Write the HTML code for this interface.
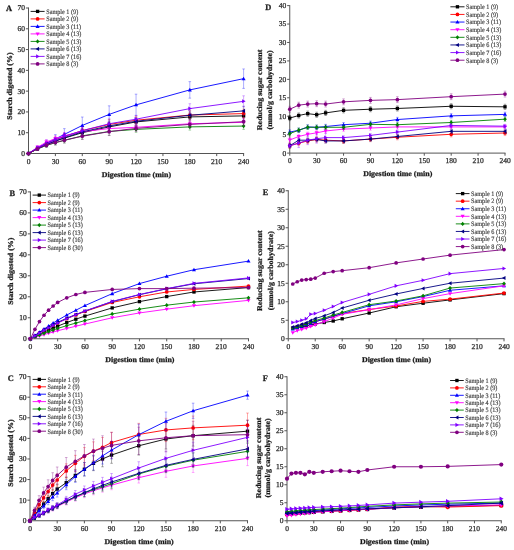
<!DOCTYPE html>
<html><head><meta charset="utf-8"><style>
html,body{margin:0;padding:0;background:#fff;}
svg{display:block;will-change:transform;filter:blur(0.35px);}
text{font-family:"Liberation Serif",serif;fill:#333;stroke:#333;stroke-width:0.28px;text-rendering:geometricPrecision;}
.tk{font-size:7.5px;}
.lg{font-size:6.7px;stroke-width:0.14px;fill:#3a3a3a;stroke:#3a3a3a;}
.xl{font-size:7.4px;font-weight:bold;fill:#111;}
.yl{font-size:7.4px;font-weight:bold;fill:#111;}
.lt{font-size:8.4px;font-weight:bold;fill:#111;}
</style></head><body>
<svg width="514" height="550" viewBox="0 0 514 550">
<rect width="514" height="550" fill="#fff"/>
<path d="M28.50 7.50V153.50H244.10" stroke="#555" stroke-width="1" fill="none"/>
<text x="24.90" y="155.90" text-anchor="end" class="tk" textLength="3.75" lengthAdjust="spacingAndGlyphs">0</text>
<text x="24.90" y="135.11" text-anchor="end" class="tk" textLength="7.50" lengthAdjust="spacingAndGlyphs">10</text>
<text x="24.90" y="114.33" text-anchor="end" class="tk" textLength="7.50" lengthAdjust="spacingAndGlyphs">20</text>
<text x="24.90" y="93.54" text-anchor="end" class="tk" textLength="7.50" lengthAdjust="spacingAndGlyphs">30</text>
<text x="24.90" y="72.76" text-anchor="end" class="tk" textLength="7.50" lengthAdjust="spacingAndGlyphs">40</text>
<text x="24.90" y="51.97" text-anchor="end" class="tk" textLength="7.50" lengthAdjust="spacingAndGlyphs">50</text>
<text x="24.90" y="31.19" text-anchor="end" class="tk" textLength="7.50" lengthAdjust="spacingAndGlyphs">60</text>
<text x="24.90" y="10.40" text-anchor="end" class="tk" textLength="7.50" lengthAdjust="spacingAndGlyphs">70</text>
<text x="28.50" y="163.50" text-anchor="middle" class="tk" textLength="3.75" lengthAdjust="spacingAndGlyphs">0</text>
<text x="55.39" y="163.50" text-anchor="middle" class="tk" textLength="7.50" lengthAdjust="spacingAndGlyphs">30</text>
<text x="82.28" y="163.50" text-anchor="middle" class="tk" textLength="7.50" lengthAdjust="spacingAndGlyphs">60</text>
<text x="109.16" y="163.50" text-anchor="middle" class="tk" textLength="7.50" lengthAdjust="spacingAndGlyphs">90</text>
<text x="136.05" y="163.50" text-anchor="middle" class="tk" textLength="11.25" lengthAdjust="spacingAndGlyphs">120</text>
<text x="162.94" y="163.50" text-anchor="middle" class="tk" textLength="11.25" lengthAdjust="spacingAndGlyphs">150</text>
<text x="189.82" y="163.50" text-anchor="middle" class="tk" textLength="11.25" lengthAdjust="spacingAndGlyphs">180</text>
<text x="216.71" y="163.50" text-anchor="middle" class="tk" textLength="11.25" lengthAdjust="spacingAndGlyphs">210</text>
<text x="243.60" y="163.50" text-anchor="middle" class="tk" textLength="11.25" lengthAdjust="spacingAndGlyphs">240</text>
<path d="M25.90 153.50H28.50 M25.90 132.71H28.50 M25.90 111.93H28.50 M25.90 91.14H28.50 M25.90 70.36H28.50 M25.90 49.57H28.50 M25.90 28.79H28.50 M25.90 8.00H28.50 M28.50 153.50V156.10 M55.39 153.50V156.10 M82.28 153.50V156.10 M109.16 153.50V156.10 M136.05 153.50V156.10 M162.94 153.50V156.10 M189.82 153.50V156.10 M216.71 153.50V156.10 M243.60 153.50V156.10" stroke="#555" stroke-width="1.0" fill="none"/>
<text x="136.45" y="176.50" text-anchor="middle" class="xl" textLength="69.2" lengthAdjust="spacingAndGlyphs">Digestion time (min)</text>
<text transform="translate(11.70,86.10) rotate(-90)" x="0" y="0" text-anchor="middle" class="yl" textLength="67.3" lengthAdjust="spacingAndGlyphs">Starch digested (%)</text>
<text x="6.00" y="11.40" class="lt">A</text>
<polyline points="28.50,153.50 37.46,148.72 46.42,144.56 55.39,141.03 64.35,138.12 82.28,132.71 109.16,126.89 136.05,121.91 189.82,116.92 243.60,115.88" fill="none" stroke="#000000" stroke-width="0.9" stroke-linejoin="round"/>
<path d="M28.50 152.67V154.33M27.20 152.67H29.80M27.20 154.33H29.80 M37.46 147.22V150.22M36.16 147.22H38.76M36.16 150.22H38.76 M46.42 142.48V146.64M45.12 142.48H47.72M45.12 146.64H47.72 M55.39 138.45V143.61M54.09 138.45H56.69M54.09 143.61H56.69 M64.35 135.13V141.10M63.05 135.13H65.65M63.05 141.10H65.65 M82.28 128.97V136.46M80.98 128.97H83.58M80.98 136.46H83.58 M109.16 122.34V131.45M107.86 122.34H110.46M107.86 131.45H110.46 M136.05 118.23V125.58M134.75 118.23H137.35M134.75 125.58H137.35 M189.82 112.79V121.04M188.52 112.79H191.12M188.52 121.04H191.12 M243.60 111.66V120.10M242.30 111.66H244.90M242.30 120.10H244.90" stroke="#000000" stroke-width="0.55" fill="none" opacity="0.6"/>
<rect x="26.84" y="151.84" width="3.33" height="3.33" fill="#000000"/>
<rect x="35.80" y="147.05" width="3.33" height="3.33" fill="#000000"/>
<rect x="44.76" y="142.90" width="3.33" height="3.33" fill="#000000"/>
<rect x="53.72" y="139.36" width="3.33" height="3.33" fill="#000000"/>
<rect x="62.68" y="136.45" width="3.33" height="3.33" fill="#000000"/>
<rect x="80.61" y="131.05" width="3.33" height="3.33" fill="#000000"/>
<rect x="107.50" y="125.23" width="3.33" height="3.33" fill="#000000"/>
<rect x="134.39" y="120.24" width="3.33" height="3.33" fill="#000000"/>
<rect x="188.16" y="115.25" width="3.33" height="3.33" fill="#000000"/>
<rect x="241.94" y="114.21" width="3.33" height="3.33" fill="#000000"/>
<polyline points="28.50,153.50 37.46,148.10 46.42,143.52 55.39,139.78 64.35,136.46 82.28,130.64 109.16,124.40 136.05,120.24 189.82,115.05 243.60,113.59" fill="none" stroke="#FF0000" stroke-width="0.9" stroke-linejoin="round"/>
<path d="M28.50 152.67V154.33M27.20 152.67H29.80M27.20 154.33H29.80 M37.46 146.51V149.68M36.16 146.51H38.76M36.16 149.68H38.76 M46.42 141.29V145.75M45.12 141.29H47.72M45.12 145.75H47.72 M55.39 137.03V142.53M54.09 137.03H56.69M54.09 142.53H56.69 M64.35 133.24V139.67M63.05 133.24H65.65M63.05 139.67H65.65 M82.28 126.60V134.67M80.98 126.60H83.58M80.98 134.67H83.58 M109.16 119.49V129.31M107.86 119.49H110.46M107.86 129.31H110.46 M136.05 116.42V124.07M134.75 116.42H137.35M134.75 124.07H137.35 M189.82 110.75V119.34M188.52 110.75H191.12M188.52 119.34H191.12 M243.60 109.17V118.01M242.30 109.17H244.90M242.30 118.01H244.90" stroke="#FF0000" stroke-width="0.55" fill="none" opacity="0.6"/>
<circle cx="28.50" cy="153.50" r="1.85" fill="#FF0000"/>
<circle cx="37.46" cy="148.10" r="1.85" fill="#FF0000"/>
<circle cx="46.42" cy="143.52" r="1.85" fill="#FF0000"/>
<circle cx="55.39" cy="139.78" r="1.85" fill="#FF0000"/>
<circle cx="64.35" cy="136.46" r="1.85" fill="#FF0000"/>
<circle cx="82.28" cy="130.64" r="1.85" fill="#FF0000"/>
<circle cx="109.16" cy="124.40" r="1.85" fill="#FF0000"/>
<circle cx="136.05" cy="120.24" r="1.85" fill="#FF0000"/>
<circle cx="189.82" cy="115.05" r="1.85" fill="#FF0000"/>
<circle cx="243.60" cy="113.59" r="1.85" fill="#FF0000"/>
<polyline points="28.50,153.50 37.46,147.68 46.42,143.11 55.39,138.95 64.35,134.38 82.28,125.44 109.16,114.42 136.05,104.86 189.82,89.90 243.60,78.67" fill="none" stroke="#0000FF" stroke-width="0.9" stroke-linejoin="round"/>
<path d="M37.46 145.93V149.43M36.16 145.93H38.76M36.16 149.43H38.76 M46.42 139.99V146.22M45.12 139.99H47.72M45.12 146.22H47.72 M55.39 134.59V143.31M54.09 134.59H56.69M54.09 143.31H56.69 M64.35 128.64V140.11M63.05 128.64H65.65M63.05 140.11H65.65 M82.28 117.02V133.86M80.98 117.02H83.58M80.98 133.86H83.58 M109.16 105.83V123.02M107.86 105.83H110.46M107.86 123.02H110.46 M136.05 94.16V115.56M134.75 94.16H137.35M134.75 115.56H137.35 M189.82 81.63V98.16M188.52 81.63H191.12M188.52 98.16H191.12 M243.60 68.94V88.40M242.30 68.94H244.90M242.30 88.40H244.90" stroke="#0000FF" stroke-width="0.55" fill="none" opacity="0.6"/>
<path d="M28.50 151.47L30.54 154.98L26.46 154.98Z" fill="#0000FF"/>
<path d="M37.46 145.65L39.50 149.16L35.43 149.16Z" fill="#0000FF"/>
<path d="M46.42 141.07L48.46 144.59L44.39 144.59Z" fill="#0000FF"/>
<path d="M55.39 136.91L57.42 140.43L53.35 140.43Z" fill="#0000FF"/>
<path d="M64.35 132.34L66.38 135.86L62.31 135.86Z" fill="#0000FF"/>
<path d="M82.28 123.40L84.31 126.92L80.24 126.92Z" fill="#0000FF"/>
<path d="M109.16 112.39L111.20 115.90L107.13 115.90Z" fill="#0000FF"/>
<path d="M136.05 102.83L138.09 106.34L134.02 106.34Z" fill="#0000FF"/>
<path d="M189.82 87.86L191.86 91.38L187.79 91.38Z" fill="#0000FF"/>
<path d="M243.60 76.64L245.63 80.15L241.56 80.15Z" fill="#0000FF"/>
<polyline points="28.50,153.50 37.46,147.26 46.42,142.07 55.39,138.53 64.35,135.83 82.28,131.68 109.16,128.56 136.05,127.31 189.82,123.78 243.60,122.32" fill="none" stroke="#FF00FF" stroke-width="0.9" stroke-linejoin="round"/>
<path d="M28.50 152.67V154.33M27.20 152.67H29.80M27.20 154.33H29.80 M37.46 145.56V148.97M36.16 145.56H38.76M36.16 148.97H38.76 M46.42 139.64V144.50M45.12 139.64H47.72M45.12 144.50H47.72 M55.39 135.61V141.46M54.09 135.61H56.69M54.09 141.46H56.69 M64.35 132.53V139.14M63.05 132.53H65.65M63.05 139.14H65.65 M82.28 127.79V135.56M80.98 127.79H83.58M80.98 135.56H83.58 M109.16 124.23V132.88M107.86 124.23H110.46M107.86 132.88H110.46 M136.05 124.12V130.50M134.75 124.12H137.35M134.75 130.50H137.35 M189.82 120.27V127.28M188.52 120.27H191.12M188.52 127.28H191.12 M243.60 118.68V125.96M242.30 118.68H244.90M242.30 125.96H244.90" stroke="#FF00FF" stroke-width="0.55" fill="none" opacity="0.6"/>
<path d="M28.50 155.53L30.54 152.02L26.46 152.02Z" fill="#FF00FF"/>
<path d="M37.46 149.30L39.50 145.78L35.43 145.78Z" fill="#FF00FF"/>
<path d="M46.42 144.10L48.46 140.59L44.39 140.59Z" fill="#FF00FF"/>
<path d="M55.39 140.57L57.42 137.05L53.35 137.05Z" fill="#FF00FF"/>
<path d="M64.35 137.87L66.38 134.35L62.31 134.35Z" fill="#FF00FF"/>
<path d="M82.28 133.71L84.31 130.20L80.24 130.20Z" fill="#FF00FF"/>
<path d="M109.16 130.59L111.20 127.08L107.13 127.08Z" fill="#FF00FF"/>
<path d="M136.05 129.34L138.09 125.83L134.02 125.83Z" fill="#FF00FF"/>
<path d="M189.82 125.81L191.86 122.30L187.79 122.30Z" fill="#FF00FF"/>
<path d="M243.60 124.36L245.63 120.84L241.56 120.84Z" fill="#FF00FF"/>
<polyline points="28.50,153.50 37.46,148.93 46.42,145.39 55.39,142.69 64.35,140.41 82.28,135.83 109.16,131.47 136.05,129.39 189.82,126.89 243.60,126.06" fill="none" stroke="#008000" stroke-width="0.9" stroke-linejoin="round"/>
<path d="M28.50 152.67V154.33M27.20 152.67H29.80M27.20 154.33H29.80 M37.46 147.46V150.40M36.16 147.46H38.76M36.16 150.40H38.76 M46.42 143.43V147.36M45.12 143.43H47.72M45.12 147.36H47.72 M55.39 140.35V145.04M54.09 140.35H56.69M54.09 145.04H56.69 M64.35 137.74V143.07M63.05 137.74H65.65M63.05 143.07H65.65 M82.28 132.53V139.14M80.98 132.53H83.58M80.98 139.14H83.58 M109.16 127.55V135.38M107.86 127.55H110.46M107.86 135.38H110.46 M136.05 126.39V132.39M134.75 126.39H137.35M134.75 132.39H137.35 M189.82 123.67V130.12M188.52 123.67H191.12M188.52 130.12H191.12 M243.60 122.76V129.36M242.30 122.76H244.90M242.30 129.36H244.90" stroke="#008000" stroke-width="0.55" fill="none" opacity="0.6"/>
<path d="M28.50 151.37L30.35 153.50L28.50 155.63L26.65 153.50Z" fill="#008000"/>
<path d="M37.46 146.80L39.31 148.93L37.46 151.05L35.61 148.93Z" fill="#008000"/>
<path d="M46.42 143.27L48.27 145.39L46.42 147.52L44.57 145.39Z" fill="#008000"/>
<path d="M55.39 140.56L57.24 142.69L55.39 144.82L53.54 142.69Z" fill="#008000"/>
<path d="M64.35 138.28L66.20 140.41L64.35 142.53L62.50 140.41Z" fill="#008000"/>
<path d="M82.28 133.70L84.12 135.83L82.28 137.96L80.43 135.83Z" fill="#008000"/>
<path d="M109.16 129.34L111.01 131.47L109.16 133.59L107.31 131.47Z" fill="#008000"/>
<path d="M136.05 127.26L137.90 129.39L136.05 131.52L134.20 129.39Z" fill="#008000"/>
<path d="M189.82 124.77L191.67 126.89L189.82 129.02L187.97 126.89Z" fill="#008000"/>
<path d="M243.60 123.94L245.45 126.06L243.60 128.19L241.75 126.06Z" fill="#008000"/>
<polyline points="28.50,153.50 37.46,148.51 46.42,144.56 55.39,141.03 64.35,137.70 82.28,131.88 109.16,125.85 136.05,121.28 189.82,115.25 243.60,110.89" fill="none" stroke="#000080" stroke-width="0.9" stroke-linejoin="round"/>
<path d="M28.50 152.67V154.33M27.20 152.67H29.80M27.20 154.33H29.80 M37.46 146.98V150.04M36.16 146.98H38.76M36.16 150.04H38.76 M46.42 142.48V146.64M45.12 142.48H47.72M45.12 146.64H47.72 M55.39 138.45V143.61M54.09 138.45H56.69M54.09 143.61H56.69 M64.35 134.66V140.75M63.05 134.66H65.65M63.05 140.75H65.65 M82.28 128.03V135.74M80.98 128.03H83.58M80.98 135.74H83.58 M109.16 121.15V130.56M107.86 121.15H110.46M107.86 130.56H110.46 M136.05 117.55V125.01M134.75 117.55H137.35M134.75 125.01H137.35 M189.82 110.98V119.53M188.52 110.98H191.12M188.52 119.53H191.12 M243.60 106.22V115.56M242.30 106.22H244.90M242.30 115.56H244.90" stroke="#000080" stroke-width="0.55" fill="none" opacity="0.6"/>
<path d="M26.46 153.50L29.98 151.47L29.98 155.53Z" fill="#000080"/>
<path d="M35.43 148.51L38.94 146.48L38.94 150.55Z" fill="#000080"/>
<path d="M44.39 144.56L47.90 142.53L47.90 146.60Z" fill="#000080"/>
<path d="M53.35 141.03L56.87 138.99L56.87 143.06Z" fill="#000080"/>
<path d="M62.31 137.70L65.83 135.67L65.83 139.74Z" fill="#000080"/>
<path d="M80.24 131.88L83.76 129.85L83.76 133.92Z" fill="#000080"/>
<path d="M107.13 125.85L110.64 123.82L110.64 127.89Z" fill="#000080"/>
<path d="M134.02 121.28L137.53 119.25L137.53 123.32Z" fill="#000080"/>
<path d="M187.79 115.25L191.30 113.22L191.30 117.29Z" fill="#000080"/>
<path d="M241.56 110.89L245.08 108.85L245.08 112.92Z" fill="#000080"/>
<polyline points="28.50,153.50 37.46,148.10 46.42,143.94 55.39,139.99 64.35,136.25 82.28,130.64 109.16,123.78 136.05,119.20 189.82,108.60 243.60,101.33" fill="none" stroke="#8000FF" stroke-width="0.9" stroke-linejoin="round"/>
<path d="M28.50 152.67V154.33M27.20 152.67H29.80M27.20 154.33H29.80 M37.46 146.51V149.68M36.16 146.51H38.76M36.16 149.68H38.76 M46.42 141.77V146.11M45.12 141.77H47.72M45.12 146.11H47.72 M55.39 137.27V142.71M54.09 137.27H56.69M54.09 142.71H56.69 M64.35 133.00V139.49M63.05 133.00H65.65M63.05 139.49H65.65 M82.28 126.60V134.67M80.98 126.60H83.58M80.98 134.67H83.58 M109.16 118.78V128.77M107.86 118.78H110.46M107.86 128.77H110.46 M136.05 115.29V123.12M134.75 115.29H137.35M134.75 123.12H137.35 M189.82 103.73V113.48M188.52 103.73H191.12M188.52 113.48H191.12 M243.60 95.80V106.85M242.30 95.80H244.90M242.30 106.85H244.90" stroke="#8000FF" stroke-width="0.55" fill="none" opacity="0.6"/>
<path d="M30.54 153.50L27.02 151.47L27.02 155.53Z" fill="#8000FF"/>
<path d="M39.50 148.10L35.98 146.06L35.98 150.13Z" fill="#8000FF"/>
<path d="M48.46 143.94L44.95 141.90L44.95 145.97Z" fill="#8000FF"/>
<path d="M57.42 139.99L53.91 137.95L53.91 142.02Z" fill="#8000FF"/>
<path d="M66.38 136.25L62.87 134.21L62.87 138.28Z" fill="#8000FF"/>
<path d="M84.31 130.64L80.80 128.60L80.80 132.67Z" fill="#8000FF"/>
<path d="M111.20 123.78L107.68 121.74L107.68 125.81Z" fill="#8000FF"/>
<path d="M138.09 119.20L134.57 117.17L134.57 121.24Z" fill="#8000FF"/>
<path d="M191.86 108.60L188.34 106.57L188.34 110.64Z" fill="#8000FF"/>
<path d="M245.63 101.33L242.12 99.29L242.12 103.36Z" fill="#8000FF"/>
<polyline points="28.50,153.50 37.46,148.93 46.42,145.19 55.39,142.48 64.35,140.20 82.28,136.25 109.16,131.68 136.05,128.35 189.82,124.40 243.60,121.70" fill="none" stroke="#800080" stroke-width="0.9" stroke-linejoin="round"/>
<path d="M28.50 152.67V154.33M27.20 152.67H29.80M27.20 154.33H29.80 M37.46 147.46V150.40M36.16 147.46H38.76M36.16 150.40H38.76 M46.42 143.19V147.18M45.12 143.19H47.72M45.12 147.18H47.72 M55.39 140.11V144.86M54.09 140.11H56.69M54.09 144.86H56.69 M64.35 137.50V142.89M63.05 137.50H65.65M63.05 142.89H65.65 M82.28 133.00V139.49M80.98 133.00H83.58M80.98 139.49H83.58 M109.16 127.79V135.56M107.86 127.79H110.46M107.86 135.56H110.46 M136.05 125.25V131.44M134.75 125.25H137.35M134.75 131.44H137.35 M189.82 120.95V127.85M188.52 120.95H191.12M188.52 127.85H191.12 M243.60 118.00V125.39M242.30 118.00H244.90M242.30 125.39H244.90" stroke="#800080" stroke-width="0.55" fill="none" opacity="0.6"/>
<circle cx="28.50" cy="153.50" r="1.85" fill="#800080"/>
<circle cx="37.46" cy="148.93" r="1.85" fill="#800080"/>
<circle cx="46.42" cy="145.19" r="1.85" fill="#800080"/>
<circle cx="55.39" cy="142.48" r="1.85" fill="#800080"/>
<circle cx="64.35" cy="140.20" r="1.85" fill="#800080"/>
<circle cx="82.28" cy="136.25" r="1.85" fill="#800080"/>
<circle cx="109.16" cy="131.68" r="1.85" fill="#800080"/>
<circle cx="136.05" cy="128.35" r="1.85" fill="#800080"/>
<circle cx="189.82" cy="124.40" r="1.85" fill="#800080"/>
<circle cx="243.60" cy="121.70" r="1.85" fill="#800080"/>
<path d="M30.60 11.40H44.60" stroke="#000000" stroke-width="0.9"/>
<rect x="35.94" y="9.73" width="3.33" height="3.33" fill="#000000"/>
<text x="46.20" y="13.70" class="lg" textLength="32.03" lengthAdjust="spacingAndGlyphs">Sample 1 (9)</text>
<path d="M30.60 18.90H44.60" stroke="#FF0000" stroke-width="0.9"/>
<circle cx="37.60" cy="18.90" r="1.85" fill="#FF0000"/>
<text x="46.20" y="21.20" class="lg" textLength="32.03" lengthAdjust="spacingAndGlyphs">Sample 2 (9)</text>
<path d="M30.60 26.40H44.60" stroke="#0000FF" stroke-width="0.9"/>
<path d="M37.60 24.36L39.64 27.88L35.56 27.88Z" fill="#0000FF"/>
<text x="46.20" y="28.70" class="lg" textLength="34.90" lengthAdjust="spacingAndGlyphs">Sample 3 (11)</text>
<path d="M30.60 33.90H44.60" stroke="#FF00FF" stroke-width="0.9"/>
<path d="M37.60 35.94L39.64 32.42L35.56 32.42Z" fill="#FF00FF"/>
<text x="46.20" y="36.20" class="lg" textLength="35.13" lengthAdjust="spacingAndGlyphs">Sample 4 (13)</text>
<path d="M30.60 41.40H44.60" stroke="#008000" stroke-width="0.9"/>
<path d="M37.60 39.27L39.45 41.40L37.60 43.53L35.75 41.40Z" fill="#008000"/>
<text x="46.20" y="43.70" class="lg" textLength="35.13" lengthAdjust="spacingAndGlyphs">Sample 5 (13)</text>
<path d="M30.60 48.90H44.60" stroke="#000080" stroke-width="0.9"/>
<path d="M35.56 48.90L39.08 46.86L39.08 50.94Z" fill="#000080"/>
<text x="46.20" y="51.20" class="lg" textLength="35.13" lengthAdjust="spacingAndGlyphs">Sample 6 (13)</text>
<path d="M30.60 56.40H44.60" stroke="#8000FF" stroke-width="0.9"/>
<path d="M39.64 56.40L36.12 54.36L36.12 58.44Z" fill="#8000FF"/>
<text x="46.20" y="58.70" class="lg" textLength="35.13" lengthAdjust="spacingAndGlyphs">Sample 7 (16)</text>
<path d="M30.60 63.90H44.60" stroke="#800080" stroke-width="0.9"/>
<circle cx="37.60" cy="63.90" r="1.85" fill="#800080"/>
<text x="46.20" y="66.20" class="lg" textLength="32.03" lengthAdjust="spacingAndGlyphs">Sample 8 (3)</text>
<path d="M30.40 191.40V338.75H249.00" stroke="#555" stroke-width="1" fill="none"/>
<text x="26.80" y="341.15" text-anchor="end" class="tk" textLength="3.75" lengthAdjust="spacingAndGlyphs">0</text>
<text x="26.80" y="320.17" text-anchor="end" class="tk" textLength="7.50" lengthAdjust="spacingAndGlyphs">10</text>
<text x="26.80" y="299.19" text-anchor="end" class="tk" textLength="7.50" lengthAdjust="spacingAndGlyphs">20</text>
<text x="26.80" y="278.21" text-anchor="end" class="tk" textLength="7.50" lengthAdjust="spacingAndGlyphs">30</text>
<text x="26.80" y="257.24" text-anchor="end" class="tk" textLength="7.50" lengthAdjust="spacingAndGlyphs">40</text>
<text x="26.80" y="236.26" text-anchor="end" class="tk" textLength="7.50" lengthAdjust="spacingAndGlyphs">50</text>
<text x="26.80" y="215.28" text-anchor="end" class="tk" textLength="7.50" lengthAdjust="spacingAndGlyphs">60</text>
<text x="26.80" y="194.30" text-anchor="end" class="tk" textLength="7.50" lengthAdjust="spacingAndGlyphs">70</text>
<text x="30.40" y="348.75" text-anchor="middle" class="tk" textLength="3.75" lengthAdjust="spacingAndGlyphs">0</text>
<text x="57.66" y="348.75" text-anchor="middle" class="tk" textLength="7.50" lengthAdjust="spacingAndGlyphs">30</text>
<text x="84.92" y="348.75" text-anchor="middle" class="tk" textLength="7.50" lengthAdjust="spacingAndGlyphs">60</text>
<text x="112.19" y="348.75" text-anchor="middle" class="tk" textLength="7.50" lengthAdjust="spacingAndGlyphs">90</text>
<text x="139.45" y="348.75" text-anchor="middle" class="tk" textLength="11.25" lengthAdjust="spacingAndGlyphs">120</text>
<text x="166.71" y="348.75" text-anchor="middle" class="tk" textLength="11.25" lengthAdjust="spacingAndGlyphs">150</text>
<text x="193.97" y="348.75" text-anchor="middle" class="tk" textLength="11.25" lengthAdjust="spacingAndGlyphs">180</text>
<text x="221.24" y="348.75" text-anchor="middle" class="tk" textLength="11.25" lengthAdjust="spacingAndGlyphs">210</text>
<text x="248.50" y="348.75" text-anchor="middle" class="tk" textLength="11.25" lengthAdjust="spacingAndGlyphs">240</text>
<path d="M27.80 338.75H30.40 M27.80 317.77H30.40 M27.80 296.79H30.40 M27.80 275.81H30.40 M27.80 254.84H30.40 M27.80 233.86H30.40 M27.80 212.88H30.40 M27.80 191.90H30.40 M30.40 338.75V341.35 M57.66 338.75V341.35 M84.92 338.75V341.35 M112.19 338.75V341.35 M139.45 338.75V341.35 M166.71 338.75V341.35 M193.97 338.75V341.35 M221.24 338.75V341.35 M248.50 338.75V341.35" stroke="#555" stroke-width="1.0" fill="none"/>
<text x="139.85" y="361.75" text-anchor="middle" class="xl" textLength="69.2" lengthAdjust="spacingAndGlyphs">Digestion time (min)</text>
<text transform="translate(13.10,271.20) rotate(-90)" x="0" y="0" text-anchor="middle" class="yl" textLength="67.3" lengthAdjust="spacingAndGlyphs">Starch digested (%)</text>
<text x="9.60" y="196.20" class="lt">B</text>
<polyline points="30.40,338.75 34.94,336.47 39.49,334.26 44.03,332.12 48.57,330.06 53.12,328.07 57.66,326.16 66.75,322.56 75.84,319.21 84.92,316.09 112.19,307.91 139.45,301.62 166.71,296.58 193.97,291.97 248.50,287.56" fill="none" stroke="#000000" stroke-width="0.9" stroke-linejoin="round"/>
<rect x="28.73" y="337.08" width="3.33" height="3.33" fill="#000000"/>
<rect x="33.28" y="334.81" width="3.33" height="3.33" fill="#000000"/>
<rect x="37.82" y="332.60" width="3.33" height="3.33" fill="#000000"/>
<rect x="42.37" y="330.46" width="3.33" height="3.33" fill="#000000"/>
<rect x="46.91" y="328.39" width="3.33" height="3.33" fill="#000000"/>
<rect x="51.45" y="326.40" width="3.33" height="3.33" fill="#000000"/>
<rect x="56.00" y="324.50" width="3.33" height="3.33" fill="#000000"/>
<rect x="65.08" y="320.90" width="3.33" height="3.33" fill="#000000"/>
<rect x="74.17" y="317.55" width="3.33" height="3.33" fill="#000000"/>
<rect x="83.26" y="314.43" width="3.33" height="3.33" fill="#000000"/>
<rect x="110.52" y="306.25" width="3.33" height="3.33" fill="#000000"/>
<rect x="137.78" y="299.95" width="3.33" height="3.33" fill="#000000"/>
<rect x="165.05" y="294.92" width="3.33" height="3.33" fill="#000000"/>
<rect x="192.31" y="290.30" width="3.33" height="3.33" fill="#000000"/>
<rect x="246.84" y="285.90" width="3.33" height="3.33" fill="#000000"/>
<polyline points="30.40,338.75 34.94,335.76 39.49,332.89 44.03,330.15 48.57,327.55 53.12,325.10 57.66,322.81 66.75,318.65 75.84,314.92 84.92,311.48 112.19,302.46 139.45,296.79 166.71,291.97 193.97,289.45 248.50,286.09" fill="none" stroke="#FF0000" stroke-width="0.9" stroke-linejoin="round"/>
<circle cx="30.40" cy="338.75" r="1.85" fill="#FF0000"/>
<circle cx="34.94" cy="335.76" r="1.85" fill="#FF0000"/>
<circle cx="39.49" cy="332.89" r="1.85" fill="#FF0000"/>
<circle cx="44.03" cy="330.15" r="1.85" fill="#FF0000"/>
<circle cx="48.57" cy="327.55" r="1.85" fill="#FF0000"/>
<circle cx="53.12" cy="325.10" r="1.85" fill="#FF0000"/>
<circle cx="57.66" cy="322.81" r="1.85" fill="#FF0000"/>
<circle cx="66.75" cy="318.65" r="1.85" fill="#FF0000"/>
<circle cx="75.84" cy="314.92" r="1.85" fill="#FF0000"/>
<circle cx="84.92" cy="311.48" r="1.85" fill="#FF0000"/>
<circle cx="112.19" cy="302.46" r="1.85" fill="#FF0000"/>
<circle cx="139.45" cy="296.79" r="1.85" fill="#FF0000"/>
<circle cx="166.71" cy="291.97" r="1.85" fill="#FF0000"/>
<circle cx="193.97" cy="289.45" r="1.85" fill="#FF0000"/>
<circle cx="248.50" cy="286.09" r="1.85" fill="#FF0000"/>
<polyline points="30.40,338.75 34.94,335.40 39.49,332.17 44.03,329.05 48.57,326.04 53.12,323.12 57.66,320.29 66.75,315.04 75.84,310.22 84.92,305.60 112.19,293.65 139.45,283.58 166.71,276.23 193.97,269.73 248.50,261.13" fill="none" stroke="#0000FF" stroke-width="0.9" stroke-linejoin="round"/>
<path d="M30.40 336.71L32.44 340.23L28.36 340.23Z" fill="#0000FF"/>
<path d="M34.94 333.36L36.98 336.88L32.91 336.88Z" fill="#0000FF"/>
<path d="M39.49 330.13L41.52 333.65L37.45 333.65Z" fill="#0000FF"/>
<path d="M44.03 327.02L46.07 330.53L42.00 330.53Z" fill="#0000FF"/>
<path d="M48.57 324.00L50.61 327.52L46.54 327.52Z" fill="#0000FF"/>
<path d="M53.12 321.09L55.15 324.60L51.08 324.60Z" fill="#0000FF"/>
<path d="M57.66 318.25L59.70 321.77L55.63 321.77Z" fill="#0000FF"/>
<path d="M66.75 313.01L68.78 316.52L64.72 316.52Z" fill="#0000FF"/>
<path d="M75.84 308.18L77.87 311.70L73.80 311.70Z" fill="#0000FF"/>
<path d="M84.92 303.57L86.96 307.08L82.89 307.08Z" fill="#0000FF"/>
<path d="M112.19 291.61L114.22 295.13L110.15 295.13Z" fill="#0000FF"/>
<path d="M139.45 281.54L141.48 285.06L137.41 285.06Z" fill="#0000FF"/>
<path d="M166.71 274.20L168.75 277.71L164.68 277.71Z" fill="#0000FF"/>
<path d="M193.97 267.70L196.01 271.21L191.94 271.21Z" fill="#0000FF"/>
<path d="M248.50 259.09L250.53 262.61L246.47 262.61Z" fill="#0000FF"/>
<polyline points="30.40,338.75 34.94,337.33 39.49,335.95 44.03,334.60 48.57,333.29 53.12,332.01 57.66,330.78 66.75,328.44 75.84,326.23 84.92,324.06 112.19,317.77 139.45,312.95 166.71,309.17 193.97,305.71 248.50,300.36" fill="none" stroke="#FF00FF" stroke-width="0.9" stroke-linejoin="round"/>
<path d="M30.40 340.79L32.44 337.27L28.36 337.27Z" fill="#FF00FF"/>
<path d="M34.94 339.37L36.98 335.85L32.91 335.85Z" fill="#FF00FF"/>
<path d="M39.49 337.98L41.52 334.47L37.45 334.47Z" fill="#FF00FF"/>
<path d="M44.03 336.63L46.07 333.12L42.00 333.12Z" fill="#FF00FF"/>
<path d="M48.57 335.32L50.61 331.81L46.54 331.81Z" fill="#FF00FF"/>
<path d="M53.12 334.05L55.15 330.53L51.08 330.53Z" fill="#FF00FF"/>
<path d="M57.66 332.81L59.70 329.30L55.63 329.30Z" fill="#FF00FF"/>
<path d="M66.75 330.47L68.78 326.96L64.72 326.96Z" fill="#FF00FF"/>
<path d="M75.84 328.26L77.87 324.75L73.80 324.75Z" fill="#FF00FF"/>
<path d="M84.92 326.10L86.96 322.58L82.89 322.58Z" fill="#FF00FF"/>
<path d="M112.19 319.81L114.22 316.29L110.15 316.29Z" fill="#FF00FF"/>
<path d="M139.45 314.98L141.48 311.47L137.41 311.47Z" fill="#FF00FF"/>
<path d="M166.71 311.21L168.75 307.69L164.68 307.69Z" fill="#FF00FF"/>
<path d="M193.97 307.74L196.01 304.23L191.94 304.23Z" fill="#FF00FF"/>
<path d="M248.50 302.39L250.53 298.88L246.47 298.88Z" fill="#FF00FF"/>
<polyline points="30.40,338.75 34.94,336.87 39.49,335.04 44.03,333.29 48.57,331.61 53.12,330.00 57.66,328.47 66.75,325.64 75.84,323.05 84.92,320.60 112.19,314.00 139.45,309.17 166.71,305.18 193.97,302.04 248.50,297.84" fill="none" stroke="#008000" stroke-width="0.9" stroke-linejoin="round"/>
<path d="M30.40 336.62L32.25 338.75L30.40 340.88L28.55 338.75Z" fill="#008000"/>
<path d="M34.94 334.74L36.79 336.87L34.94 338.99L33.09 336.87Z" fill="#008000"/>
<path d="M39.49 332.92L41.34 335.04L39.49 337.17L37.64 335.04Z" fill="#008000"/>
<path d="M44.03 331.16L45.88 333.29L44.03 335.42L42.18 333.29Z" fill="#008000"/>
<path d="M48.57 329.48L50.42 331.61L48.57 333.73L46.72 331.61Z" fill="#008000"/>
<path d="M53.12 327.87L54.97 330.00L53.12 332.13L51.27 330.00Z" fill="#008000"/>
<path d="M57.66 326.34L59.51 328.47L57.66 330.60L55.81 328.47Z" fill="#008000"/>
<path d="M66.75 323.52L68.60 325.64L66.75 327.77L64.90 325.64Z" fill="#008000"/>
<path d="M75.84 320.92L77.69 323.05L75.84 325.17L73.99 323.05Z" fill="#008000"/>
<path d="M84.92 318.48L86.77 320.60L84.92 322.73L83.08 320.60Z" fill="#008000"/>
<path d="M112.19 311.87L114.04 314.00L112.19 316.12L110.34 314.00Z" fill="#008000"/>
<path d="M139.45 307.04L141.30 309.17L139.45 311.30L137.60 309.17Z" fill="#008000"/>
<path d="M166.71 303.06L168.56 305.18L166.71 307.31L164.86 305.18Z" fill="#008000"/>
<path d="M193.97 299.91L195.82 302.04L193.97 304.17L192.12 302.04Z" fill="#008000"/>
<path d="M248.50 295.71L250.35 297.84L248.50 299.97L246.65 297.84Z" fill="#008000"/>
<polyline points="30.40,338.75 34.94,335.66 39.49,332.70 44.03,329.88 48.57,327.21 53.12,324.71 57.66,322.39 66.75,318.23 75.84,314.53 84.92,311.06 112.19,301.62 139.45,294.69 166.71,288.82 193.97,283.79 248.50,278.54" fill="none" stroke="#000080" stroke-width="0.9" stroke-linejoin="round"/>
<path d="M28.36 338.75L31.88 336.71L31.88 340.79Z" fill="#000080"/>
<path d="M32.91 335.66L36.42 333.63L36.42 337.70Z" fill="#000080"/>
<path d="M37.45 332.70L40.97 330.67L40.97 334.74Z" fill="#000080"/>
<path d="M42.00 329.88L45.51 327.85L45.51 331.92Z" fill="#000080"/>
<path d="M46.54 327.21L50.05 325.18L50.05 329.25Z" fill="#000080"/>
<path d="M51.08 324.71L54.60 322.68L54.60 326.75Z" fill="#000080"/>
<path d="M55.63 322.39L59.14 320.35L59.14 324.42Z" fill="#000080"/>
<path d="M64.72 318.23L68.23 316.19L68.23 320.26Z" fill="#000080"/>
<path d="M73.80 314.53L77.32 312.49L77.32 316.56Z" fill="#000080"/>
<path d="M82.89 311.06L86.41 309.02L86.41 313.09Z" fill="#000080"/>
<path d="M110.15 301.62L113.67 299.58L113.67 303.65Z" fill="#000080"/>
<path d="M137.41 294.69L140.93 292.66L140.93 296.73Z" fill="#000080"/>
<path d="M164.68 288.82L168.19 286.79L168.19 290.86Z" fill="#000080"/>
<path d="M191.94 283.79L195.45 281.75L195.45 285.82Z" fill="#000080"/>
<path d="M246.47 278.54L249.98 276.51L249.98 280.58Z" fill="#000080"/>
<polyline points="30.40,338.75 34.94,335.86 39.49,333.07 44.03,330.38 48.57,327.80 53.12,325.35 57.66,323.02 66.75,318.69 75.84,314.73 84.92,311.06 112.19,301.41 139.45,294.49 166.71,288.61 193.97,283.37 248.50,277.91" fill="none" stroke="#8000FF" stroke-width="0.9" stroke-linejoin="round"/>
<path d="M32.44 338.75L28.92 336.71L28.92 340.79Z" fill="#8000FF"/>
<path d="M36.98 335.86L33.46 333.82L33.46 337.89Z" fill="#8000FF"/>
<path d="M41.52 333.07L38.01 331.03L38.01 335.10Z" fill="#8000FF"/>
<path d="M46.07 330.38L42.55 328.34L42.55 332.41Z" fill="#8000FF"/>
<path d="M50.61 327.80L47.09 325.77L47.09 329.84Z" fill="#8000FF"/>
<path d="M55.15 325.35L51.64 323.31L51.64 327.38Z" fill="#8000FF"/>
<path d="M59.70 323.02L56.18 320.98L56.18 325.05Z" fill="#8000FF"/>
<path d="M68.78 318.69L65.27 316.66L65.27 320.73Z" fill="#8000FF"/>
<path d="M77.87 314.73L74.36 312.70L74.36 316.77Z" fill="#8000FF"/>
<path d="M86.96 311.06L83.44 309.02L83.44 313.09Z" fill="#8000FF"/>
<path d="M114.22 301.41L110.71 299.37L110.71 303.44Z" fill="#8000FF"/>
<path d="M141.48 294.49L137.97 292.45L137.97 296.52Z" fill="#8000FF"/>
<path d="M168.75 288.61L165.23 286.58L165.23 290.65Z" fill="#8000FF"/>
<path d="M196.01 283.37L192.50 281.33L192.50 285.40Z" fill="#8000FF"/>
<path d="M250.53 277.91L247.02 275.88L247.02 279.95Z" fill="#8000FF"/>
<polyline points="30.40,338.75 34.94,329.31 39.49,321.55 44.03,315.25 48.57,310.22 53.12,306.02 57.66,302.46 66.75,297.84 75.84,294.49 84.92,292.39 112.19,289.45 139.45,288.61 166.71,288.61 193.97,288.19 248.50,287.56" fill="none" stroke="#800080" stroke-width="0.9" stroke-linejoin="round"/>
<circle cx="30.40" cy="338.75" r="1.85" fill="#800080"/>
<circle cx="34.94" cy="329.31" r="1.85" fill="#800080"/>
<circle cx="39.49" cy="321.55" r="1.85" fill="#800080"/>
<circle cx="44.03" cy="315.25" r="1.85" fill="#800080"/>
<circle cx="48.57" cy="310.22" r="1.85" fill="#800080"/>
<circle cx="53.12" cy="306.02" r="1.85" fill="#800080"/>
<circle cx="57.66" cy="302.46" r="1.85" fill="#800080"/>
<circle cx="66.75" cy="297.84" r="1.85" fill="#800080"/>
<circle cx="75.84" cy="294.49" r="1.85" fill="#800080"/>
<circle cx="84.92" cy="292.39" r="1.85" fill="#800080"/>
<circle cx="112.19" cy="289.45" r="1.85" fill="#800080"/>
<circle cx="139.45" cy="288.61" r="1.85" fill="#800080"/>
<circle cx="166.71" cy="288.61" r="1.85" fill="#800080"/>
<circle cx="193.97" cy="288.19" r="1.85" fill="#800080"/>
<circle cx="248.50" cy="287.56" r="1.85" fill="#800080"/>
<path d="M32.60 195.10H46.00" stroke="#000000" stroke-width="0.9"/>
<rect x="37.63" y="193.44" width="3.33" height="3.33" fill="#000000"/>
<text x="47.60" y="197.40" class="lg" textLength="32.03" lengthAdjust="spacingAndGlyphs">Sample 1 (9)</text>
<path d="M32.60 202.60H46.00" stroke="#FF0000" stroke-width="0.9"/>
<circle cx="39.30" cy="202.60" r="1.85" fill="#FF0000"/>
<text x="47.60" y="204.90" class="lg" textLength="32.03" lengthAdjust="spacingAndGlyphs">Sample 2 (9)</text>
<path d="M32.60 210.10H46.00" stroke="#0000FF" stroke-width="0.9"/>
<path d="M39.30 208.06L41.33 211.58L37.27 211.58Z" fill="#0000FF"/>
<text x="47.60" y="212.40" class="lg" textLength="34.90" lengthAdjust="spacingAndGlyphs">Sample 3 (11)</text>
<path d="M32.60 217.60H46.00" stroke="#FF00FF" stroke-width="0.9"/>
<path d="M39.30 219.63L41.33 216.12L37.27 216.12Z" fill="#FF00FF"/>
<text x="47.60" y="219.90" class="lg" textLength="35.13" lengthAdjust="spacingAndGlyphs">Sample 4 (13)</text>
<path d="M32.60 225.10H46.00" stroke="#008000" stroke-width="0.9"/>
<path d="M39.30 222.97L41.15 225.10L39.30 227.23L37.45 225.10Z" fill="#008000"/>
<text x="47.60" y="227.40" class="lg" textLength="35.13" lengthAdjust="spacingAndGlyphs">Sample 5 (13)</text>
<path d="M32.60 232.60H46.00" stroke="#000080" stroke-width="0.9"/>
<path d="M37.27 232.60L40.78 230.56L40.78 234.63Z" fill="#000080"/>
<text x="47.60" y="234.90" class="lg" textLength="35.13" lengthAdjust="spacingAndGlyphs">Sample 6 (13)</text>
<path d="M32.60 240.10H46.00" stroke="#8000FF" stroke-width="0.9"/>
<path d="M41.33 240.10L37.82 238.06L37.82 242.13Z" fill="#8000FF"/>
<text x="47.60" y="242.40" class="lg" textLength="35.13" lengthAdjust="spacingAndGlyphs">Sample 7 (16)</text>
<path d="M32.60 247.60H46.00" stroke="#800080" stroke-width="0.9"/>
<circle cx="39.30" cy="247.60" r="1.85" fill="#800080"/>
<text x="47.60" y="249.90" class="lg" textLength="35.13" lengthAdjust="spacingAndGlyphs">Sample 8 (30)</text>
<path d="M30.00 376.10V520.75H248.00" stroke="#555" stroke-width="1" fill="none"/>
<text x="26.40" y="523.15" text-anchor="end" class="tk" textLength="3.75" lengthAdjust="spacingAndGlyphs">0</text>
<text x="26.40" y="502.56" text-anchor="end" class="tk" textLength="7.50" lengthAdjust="spacingAndGlyphs">10</text>
<text x="26.40" y="481.96" text-anchor="end" class="tk" textLength="7.50" lengthAdjust="spacingAndGlyphs">20</text>
<text x="26.40" y="461.37" text-anchor="end" class="tk" textLength="7.50" lengthAdjust="spacingAndGlyphs">30</text>
<text x="26.40" y="440.78" text-anchor="end" class="tk" textLength="7.50" lengthAdjust="spacingAndGlyphs">40</text>
<text x="26.40" y="420.19" text-anchor="end" class="tk" textLength="7.50" lengthAdjust="spacingAndGlyphs">50</text>
<text x="26.40" y="399.59" text-anchor="end" class="tk" textLength="7.50" lengthAdjust="spacingAndGlyphs">60</text>
<text x="26.40" y="379.00" text-anchor="end" class="tk" textLength="7.50" lengthAdjust="spacingAndGlyphs">70</text>
<text x="30.00" y="530.75" text-anchor="middle" class="tk" textLength="3.75" lengthAdjust="spacingAndGlyphs">0</text>
<text x="57.19" y="530.75" text-anchor="middle" class="tk" textLength="7.50" lengthAdjust="spacingAndGlyphs">30</text>
<text x="84.38" y="530.75" text-anchor="middle" class="tk" textLength="7.50" lengthAdjust="spacingAndGlyphs">60</text>
<text x="111.56" y="530.75" text-anchor="middle" class="tk" textLength="7.50" lengthAdjust="spacingAndGlyphs">90</text>
<text x="138.75" y="530.75" text-anchor="middle" class="tk" textLength="11.25" lengthAdjust="spacingAndGlyphs">120</text>
<text x="165.94" y="530.75" text-anchor="middle" class="tk" textLength="11.25" lengthAdjust="spacingAndGlyphs">150</text>
<text x="193.12" y="530.75" text-anchor="middle" class="tk" textLength="11.25" lengthAdjust="spacingAndGlyphs">180</text>
<text x="220.31" y="530.75" text-anchor="middle" class="tk" textLength="11.25" lengthAdjust="spacingAndGlyphs">210</text>
<text x="247.50" y="530.75" text-anchor="middle" class="tk" textLength="11.25" lengthAdjust="spacingAndGlyphs">240</text>
<path d="M27.40 520.75H30.00 M27.40 500.16H30.00 M27.40 479.56H30.00 M27.40 458.97H30.00 M27.40 438.38H30.00 M27.40 417.79H30.00 M27.40 397.19H30.00 M27.40 376.60H30.00 M30.00 520.75V523.35 M57.19 520.75V523.35 M84.38 520.75V523.35 M111.56 520.75V523.35 M138.75 520.75V523.35 M165.94 520.75V523.35 M193.12 520.75V523.35 M220.31 520.75V523.35 M247.50 520.75V523.35" stroke="#555" stroke-width="1.0" fill="none"/>
<text x="139.15" y="543.75" text-anchor="middle" class="xl" textLength="69.2" lengthAdjust="spacingAndGlyphs">Digestion time (min)</text>
<text transform="translate(13.40,453.10) rotate(-90)" x="0" y="0" text-anchor="middle" class="yl" textLength="67.3" lengthAdjust="spacingAndGlyphs">Starch digested (%)</text>
<text x="7.80" y="380.80" class="lt">C</text>
<polyline points="30.00,520.75 34.53,514.98 39.06,509.42 43.59,504.07 48.12,498.72 52.66,493.57 57.19,489.04 66.25,482.65 75.31,475.45 84.38,469.27 93.44,463.30 102.50,458.97 111.56,455.06 138.75,445.79 165.94,439.00 193.12,435.70 247.50,431.17" fill="none" stroke="#000000" stroke-width="0.9" stroke-linejoin="round"/>
<path d="M30.00 519.72V521.78M28.70 519.72H31.30M28.70 521.78H31.30 M34.53 513.32V516.65M33.23 513.32H35.83M33.23 516.65H35.83 M39.06 507.15V511.70M37.76 507.15H40.36M37.76 511.70H40.36 M43.59 501.21V506.93M42.29 501.21H44.89M42.29 506.93H44.89 M48.12 495.26V502.17M46.83 495.26H49.42M46.83 502.17H49.42 M52.66 489.55V497.59M51.36 489.55H53.96M51.36 497.59H53.96 M57.19 484.52V493.56M55.89 484.52H58.49M55.89 493.56H58.49 M66.25 477.43V487.87M64.95 477.43H67.55M64.95 487.87H67.55 M75.31 469.43V481.46M74.01 469.43H76.61M74.01 481.46H76.61 M84.38 462.58V475.96M83.08 462.58H85.67M83.08 475.96H85.67 M93.44 455.95V470.65M92.14 455.95H94.74M92.14 470.65H94.74 M102.50 451.15V466.80M101.20 451.15H103.80M101.20 466.80H103.80 M111.56 446.80V463.31M110.26 446.80H112.86M110.26 463.31H112.86 M138.75 436.52V455.07M137.45 436.52H140.05M137.45 455.07H140.05 M165.94 428.97V449.02M164.64 428.97H167.24M164.64 449.02H167.24 M193.12 425.32V446.09M191.82 425.32H194.43M191.82 446.09H194.43 M247.50 420.29V442.05M246.20 420.29H248.80M246.20 442.05H248.80" stroke="#000000" stroke-width="0.55" fill="none" opacity="0.6"/>
<rect x="28.34" y="519.09" width="3.33" height="3.33" fill="#000000"/>
<rect x="32.87" y="513.32" width="3.33" height="3.33" fill="#000000"/>
<rect x="37.40" y="507.76" width="3.33" height="3.33" fill="#000000"/>
<rect x="41.93" y="502.40" width="3.33" height="3.33" fill="#000000"/>
<rect x="46.46" y="497.05" width="3.33" height="3.33" fill="#000000"/>
<rect x="50.99" y="491.90" width="3.33" height="3.33" fill="#000000"/>
<rect x="55.52" y="487.37" width="3.33" height="3.33" fill="#000000"/>
<rect x="64.58" y="480.99" width="3.33" height="3.33" fill="#000000"/>
<rect x="73.65" y="473.78" width="3.33" height="3.33" fill="#000000"/>
<rect x="82.71" y="467.60" width="3.33" height="3.33" fill="#000000"/>
<rect x="91.77" y="461.63" width="3.33" height="3.33" fill="#000000"/>
<rect x="100.83" y="457.31" width="3.33" height="3.33" fill="#000000"/>
<rect x="109.90" y="453.39" width="3.33" height="3.33" fill="#000000"/>
<rect x="137.09" y="444.13" width="3.33" height="3.33" fill="#000000"/>
<rect x="164.27" y="437.33" width="3.33" height="3.33" fill="#000000"/>
<rect x="191.46" y="434.04" width="3.33" height="3.33" fill="#000000"/>
<rect x="245.84" y="429.51" width="3.33" height="3.33" fill="#000000"/>
<polyline points="30.00,520.75 34.53,512.51 39.06,504.69 43.59,497.89 48.12,491.51 52.66,485.12 57.19,479.98 66.25,470.92 75.31,463.30 84.38,456.29 93.44,451.15 102.50,447.23 111.56,442.50 138.75,434.47 165.94,429.94 193.12,427.88 247.50,425.20" fill="none" stroke="#FF0000" stroke-width="0.9" stroke-linejoin="round"/>
<path d="M30.00 519.10V522.40M28.70 519.10H31.30M28.70 522.40H31.30 M34.53 509.96V515.07M33.23 509.96H35.83M33.23 515.07H35.83 M39.06 501.27V508.10M37.76 501.27H40.36M37.76 508.10H40.36 M43.59 493.73V502.05M42.29 493.73H44.89M42.29 502.05H44.89 M48.12 486.64V496.37M46.83 486.64H49.42M46.83 496.37H49.42 M52.66 479.56V490.69M51.36 479.56H53.96M51.36 490.69H53.96 M57.19 473.84V486.11M55.89 473.84H58.49M55.89 486.11H58.49 M66.25 463.79V478.04M64.95 463.79H67.55M64.95 478.04H67.55 M75.31 455.33V471.26M74.01 455.33H76.61M74.01 471.26H76.61 M84.38 447.56V465.03M83.08 447.56H85.67M83.08 465.03H85.67 M93.44 441.84V460.45M92.14 441.84H94.74M92.14 460.45H94.74 M102.50 437.50V456.97M101.20 437.50H103.80M101.20 456.97H103.80 M111.56 432.24V452.75M110.26 432.24H112.86M110.26 452.75H112.86 M138.75 423.33V445.60M137.45 423.33H140.05M137.45 445.60H140.05 M165.94 418.30V441.57M164.64 418.30H167.24M164.64 441.57H167.24 M193.12 416.01V439.74M191.82 416.01H194.43M191.82 439.74H194.43 M247.50 413.04V437.36M246.20 413.04H248.80M246.20 437.36H248.80" stroke="#FF0000" stroke-width="0.55" fill="none" opacity="0.6"/>
<circle cx="30.00" cy="520.75" r="1.85" fill="#FF0000"/>
<circle cx="34.53" cy="512.51" r="1.85" fill="#FF0000"/>
<circle cx="39.06" cy="504.69" r="1.85" fill="#FF0000"/>
<circle cx="43.59" cy="497.89" r="1.85" fill="#FF0000"/>
<circle cx="48.12" cy="491.51" r="1.85" fill="#FF0000"/>
<circle cx="52.66" cy="485.12" r="1.85" fill="#FF0000"/>
<circle cx="57.19" cy="479.98" r="1.85" fill="#FF0000"/>
<circle cx="66.25" cy="470.92" r="1.85" fill="#FF0000"/>
<circle cx="75.31" cy="463.30" r="1.85" fill="#FF0000"/>
<circle cx="84.38" cy="456.29" r="1.85" fill="#FF0000"/>
<circle cx="93.44" cy="451.15" r="1.85" fill="#FF0000"/>
<circle cx="102.50" cy="447.23" r="1.85" fill="#FF0000"/>
<circle cx="111.56" cy="442.50" r="1.85" fill="#FF0000"/>
<circle cx="138.75" cy="434.47" r="1.85" fill="#FF0000"/>
<circle cx="165.94" cy="429.94" r="1.85" fill="#FF0000"/>
<circle cx="193.12" cy="427.88" r="1.85" fill="#FF0000"/>
<circle cx="247.50" cy="425.20" r="1.85" fill="#FF0000"/>
<polyline points="30.00,520.75 34.53,515.81 39.06,510.87 43.59,506.13 48.12,501.60 52.66,497.07 57.19,492.95 66.25,484.71 75.31,476.48 84.38,469.27 93.44,462.68 102.50,455.88 111.56,450.12 138.75,434.67 165.94,421.29 193.12,410.78 247.50,395.13" fill="none" stroke="#0000FF" stroke-width="0.9" stroke-linejoin="round"/>
<path d="M30.00 519.72V521.78M28.70 519.72H31.30M28.70 521.78H31.30 M34.53 514.23V517.38M33.23 514.23H35.83M33.23 517.38H35.83 M39.06 508.75V512.98M37.76 508.75H40.36M37.76 512.98H40.36 M43.59 503.49V508.77M42.29 503.49H44.89M42.29 508.77H44.89 M48.12 498.46V504.73M46.83 498.46H49.42M46.83 504.73H49.42 M52.66 493.43V500.70M51.36 493.43H53.96M51.36 500.70H53.96 M57.19 488.86V497.04M55.89 488.86H58.49M55.89 497.04H58.49 M66.25 479.72V489.71M64.95 479.72H67.55M64.95 489.71H67.55 M75.31 470.58V482.38M74.01 470.58H76.61M74.01 482.38H76.61 M84.38 462.58V475.96M83.08 462.58H85.67M83.08 475.96H85.67 M93.44 455.26V470.10M92.14 455.26H94.74M92.14 470.10H94.74 M102.50 447.72V464.05M101.20 447.72H103.80M101.20 464.05H103.80 M111.56 441.32V458.92M110.26 441.32H112.86M110.26 458.92H112.86 M138.75 424.17V445.17M137.45 424.17H140.05M137.45 445.17H140.05 M165.94 412.02V430.55M164.64 412.02H167.24M164.64 430.55H167.24 M193.12 403.16V418.40M191.82 403.16H194.43M191.82 418.40H194.43 M247.50 391.01V399.25M246.20 391.01H248.80M246.20 399.25H248.80" stroke="#0000FF" stroke-width="0.55" fill="none" opacity="0.6"/>
<path d="M30.00 518.72L32.03 522.23L27.96 522.23Z" fill="#0000FF"/>
<path d="M34.53 513.77L36.57 517.29L32.50 517.29Z" fill="#0000FF"/>
<path d="M39.06 508.83L41.10 512.35L37.03 512.35Z" fill="#0000FF"/>
<path d="M43.59 504.09L45.63 507.61L41.56 507.61Z" fill="#0000FF"/>
<path d="M48.12 499.56L50.16 503.08L46.09 503.08Z" fill="#0000FF"/>
<path d="M52.66 495.03L54.69 498.55L50.62 498.55Z" fill="#0000FF"/>
<path d="M57.19 490.91L59.22 494.43L55.15 494.43Z" fill="#0000FF"/>
<path d="M66.25 482.68L68.28 486.19L64.22 486.19Z" fill="#0000FF"/>
<path d="M75.31 474.44L77.35 477.96L73.28 477.96Z" fill="#0000FF"/>
<path d="M84.38 467.23L86.41 470.75L82.34 470.75Z" fill="#0000FF"/>
<path d="M93.44 460.64L95.47 464.16L91.40 464.16Z" fill="#0000FF"/>
<path d="M102.50 453.85L104.53 457.36L100.47 457.36Z" fill="#0000FF"/>
<path d="M111.56 448.08L113.60 451.60L109.53 451.60Z" fill="#0000FF"/>
<path d="M138.75 432.64L140.78 436.15L136.72 436.15Z" fill="#0000FF"/>
<path d="M165.94 419.25L167.97 422.77L163.90 422.77Z" fill="#0000FF"/>
<path d="M193.12 408.75L195.16 412.26L191.09 412.26Z" fill="#0000FF"/>
<path d="M247.50 393.10L249.53 396.61L245.47 396.61Z" fill="#0000FF"/>
<polyline points="30.00,520.75 34.53,518.25 39.06,515.81 43.59,513.42 48.12,511.08 52.66,508.78 57.19,506.54 66.25,502.09 75.31,497.79 84.38,493.98 93.44,490.74 102.50,487.85 111.56,485.12 138.75,477.71 165.94,471.33 193.12,465.97 247.50,458.35" fill="none" stroke="#FF00FF" stroke-width="0.9" stroke-linejoin="round"/>
<path d="M30.00 519.72V521.78M28.70 519.72H31.30M28.70 521.78H31.30 M34.53 516.97V519.53M33.23 516.97H35.83M33.23 519.53H35.83 M39.06 514.28V517.33M37.76 514.28H40.36M37.76 517.33H40.36 M43.59 511.66V515.19M42.29 511.66H44.89M42.29 515.19H44.89 M48.12 509.08V513.07M46.83 509.08H49.42M46.83 513.07H49.42 M52.66 506.55V511.01M51.36 506.55H53.96M51.36 511.01H53.96 M57.19 504.09V508.99M55.89 504.09H58.49M55.89 508.99H58.49 M66.25 499.20V504.99M64.95 499.20H67.55M64.95 504.99H67.55 M75.31 494.47V501.12M74.01 494.47H76.61M74.01 501.12H76.61 M84.38 490.27V497.69M83.08 490.27H85.67M83.08 497.69H85.67 M93.44 486.71V494.77M92.14 486.71H94.74M92.14 494.77H94.74 M102.50 483.53V492.17M101.20 483.53H103.80M101.20 492.17H103.80 M111.56 480.53V489.72M110.26 480.53H112.86M110.26 489.72H112.86 M138.75 472.38V483.04M137.45 472.38H140.05M137.45 483.04H140.05 M165.94 465.36V477.30M164.64 465.36H167.24M164.64 477.30H167.24 M193.12 459.47V472.48M191.82 459.47H194.43M191.82 472.48H194.43 M247.50 451.08V465.62M246.20 451.08H248.80M246.20 465.62H248.80" stroke="#FF00FF" stroke-width="0.55" fill="none" opacity="0.6"/>
<path d="M30.00 522.78L32.03 519.27L27.96 519.27Z" fill="#FF00FF"/>
<path d="M34.53 520.28L36.57 516.77L32.50 516.77Z" fill="#FF00FF"/>
<path d="M39.06 517.84L41.10 514.33L37.03 514.33Z" fill="#FF00FF"/>
<path d="M43.59 515.46L45.63 511.94L41.56 511.94Z" fill="#FF00FF"/>
<path d="M48.12 513.11L50.16 509.60L46.09 509.60Z" fill="#FF00FF"/>
<path d="M52.66 510.82L54.69 507.30L50.62 507.30Z" fill="#FF00FF"/>
<path d="M57.19 508.58L59.22 505.06L55.15 505.06Z" fill="#FF00FF"/>
<path d="M66.25 504.13L68.28 500.61L64.22 500.61Z" fill="#FF00FF"/>
<path d="M75.31 499.83L77.35 496.31L73.28 496.31Z" fill="#FF00FF"/>
<path d="M84.38 496.01L86.41 492.50L82.34 492.50Z" fill="#FF00FF"/>
<path d="M93.44 492.78L95.47 489.26L91.40 489.26Z" fill="#FF00FF"/>
<path d="M102.50 489.88L104.53 486.37L100.47 486.37Z" fill="#FF00FF"/>
<path d="M111.56 487.16L113.60 483.64L109.53 483.64Z" fill="#FF00FF"/>
<path d="M138.75 479.75L140.78 476.23L136.72 476.23Z" fill="#FF00FF"/>
<path d="M165.94 473.36L167.97 469.85L163.90 469.85Z" fill="#FF00FF"/>
<path d="M193.12 468.01L195.16 464.49L191.09 464.49Z" fill="#FF00FF"/>
<path d="M247.50 460.39L249.53 456.87L245.47 456.87Z" fill="#FF00FF"/>
<polyline points="30.00,520.75 34.53,518.15 39.06,515.60 43.59,513.11 48.12,510.66 52.66,508.26 57.19,505.92 66.25,501.32 75.31,496.90 84.38,492.95 93.44,489.65 102.50,486.69 111.56,483.68 138.75,474.00 165.94,466.18 193.12,460.21 247.50,451.35" fill="none" stroke="#008000" stroke-width="0.9" stroke-linejoin="round"/>
<path d="M30.00 519.72V521.78M28.70 519.72H31.30M28.70 521.78H31.30 M34.53 516.86V519.44M33.23 516.86H35.83M33.23 519.44H35.83 M39.06 514.06V517.15M37.76 514.06H40.36M37.76 517.15H40.36 M43.59 511.32V514.90M42.29 511.32H44.89M42.29 514.90H44.89 M48.12 508.62V512.70M46.83 508.62H49.42M46.83 512.70H49.42 M52.66 505.98V510.53M51.36 505.98H53.96M51.36 510.53H53.96 M57.19 503.41V508.44M55.89 503.41H58.49M55.89 508.44H58.49 M66.25 498.35V504.30M64.95 498.35H67.55M64.95 504.30H67.55 M75.31 493.48V500.31M74.01 493.48H76.61M74.01 500.31H76.61 M84.38 489.14V496.76M83.08 489.14H85.67M83.08 496.76H85.67 M93.44 485.51V493.79M92.14 485.51H94.74M92.14 493.79H94.74 M102.50 482.25V491.12M101.20 482.25H103.80M101.20 491.12H103.80 M111.56 478.95V488.42M110.26 478.95H112.86M110.26 488.42H112.86 M138.75 468.30V479.71M137.45 468.30H140.05M137.45 479.71H140.05 M165.94 459.69V472.67M164.64 459.69H167.24M164.64 472.67H167.24 M193.12 453.12V467.29M191.82 453.12H194.43M191.82 467.29H194.43 M247.50 443.38V459.32M246.20 443.38H248.80M246.20 459.32H248.80" stroke="#008000" stroke-width="0.55" fill="none" opacity="0.6"/>
<path d="M30.00 518.62L31.85 520.75L30.00 522.88L28.15 520.75Z" fill="#008000"/>
<path d="M34.53 516.02L36.38 518.15L34.53 520.27L32.68 518.15Z" fill="#008000"/>
<path d="M39.06 513.47L40.91 515.60L39.06 517.73L37.21 515.60Z" fill="#008000"/>
<path d="M43.59 510.98L45.44 513.11L43.59 515.24L41.74 513.11Z" fill="#008000"/>
<path d="M48.12 508.53L49.98 510.66L48.12 512.78L46.27 510.66Z" fill="#008000"/>
<path d="M52.66 506.13L54.51 508.26L52.66 510.38L50.81 508.26Z" fill="#008000"/>
<path d="M57.19 503.80L59.04 505.92L57.19 508.05L55.34 505.92Z" fill="#008000"/>
<path d="M66.25 499.20L68.10 501.32L66.25 503.45L64.40 501.32Z" fill="#008000"/>
<path d="M75.31 494.77L77.16 496.90L75.31 499.02L73.46 496.90Z" fill="#008000"/>
<path d="M84.38 490.82L86.22 492.95L84.38 495.08L82.53 492.95Z" fill="#008000"/>
<path d="M93.44 487.52L95.29 489.65L93.44 491.77L91.59 489.65Z" fill="#008000"/>
<path d="M102.50 484.56L104.35 486.69L102.50 488.81L100.65 486.69Z" fill="#008000"/>
<path d="M111.56 481.56L113.41 483.68L111.56 485.81L109.71 483.68Z" fill="#008000"/>
<path d="M138.75 471.88L140.60 474.00L138.75 476.13L136.90 474.00Z" fill="#008000"/>
<path d="M165.94 464.05L167.79 466.18L165.94 468.31L164.09 466.18Z" fill="#008000"/>
<path d="M193.12 458.08L194.97 460.21L193.12 462.33L191.28 460.21Z" fill="#008000"/>
<path d="M247.50 449.22L249.35 451.35L247.50 453.48L245.65 451.35Z" fill="#008000"/>
<polyline points="30.00,520.75 34.53,518.16 39.06,515.60 43.59,513.08 48.12,510.58 52.66,508.12 57.19,505.72 66.25,501.03 75.31,496.66 84.38,492.67 93.44,488.90 102.50,485.36 111.56,482.04 138.75,473.39 165.94,465.36 193.12,459.38 247.50,448.88" fill="none" stroke="#000080" stroke-width="0.9" stroke-linejoin="round"/>
<path d="M30.00 519.72V521.78M28.70 519.72H31.30M28.70 521.78H31.30 M34.53 516.87V519.44M33.23 516.87H35.83M33.23 519.44H35.83 M39.06 514.06V517.15M37.76 514.06H40.36M37.76 517.15H40.36 M43.59 511.28V514.88M42.29 511.28H44.89M42.29 514.88H44.89 M48.12 508.53V512.62M46.83 508.53H49.42M46.83 512.62H49.42 M52.66 505.82V510.41M51.36 505.82H53.96M51.36 510.41H53.96 M57.19 503.18V508.25M55.89 503.18H58.49M55.89 508.25H58.49 M66.25 498.03V504.03M64.95 498.03H67.55M64.95 504.03H67.55 M75.31 493.22V500.10M74.01 493.22H76.61M74.01 500.10H76.61 M84.38 488.83V496.51M83.08 488.83H85.67M83.08 496.51H85.67 M93.44 484.69V493.12M92.14 484.69H94.74M92.14 493.12H94.74 M102.50 480.79V489.92M101.20 480.79H103.80M101.20 489.92H103.80 M111.56 477.13V486.94M110.26 477.13H112.86M110.26 486.94H112.86 M138.75 467.62V479.15M137.45 467.62H140.05M137.45 479.15H140.05 M165.94 458.79V471.92M164.64 458.79H167.24M164.64 471.92H167.24 M193.12 452.22V466.55M191.82 452.22H194.43M191.82 466.55H194.43 M247.50 440.66V457.10M246.20 440.66H248.80M246.20 457.10H248.80" stroke="#000080" stroke-width="0.55" fill="none" opacity="0.6"/>
<path d="M27.96 520.75L31.48 518.72L31.48 522.78Z" fill="#000080"/>
<path d="M32.50 518.16L36.01 516.12L36.01 520.19Z" fill="#000080"/>
<path d="M37.03 515.60L40.54 513.57L40.54 517.64Z" fill="#000080"/>
<path d="M41.56 513.08L45.07 511.04L45.07 515.11Z" fill="#000080"/>
<path d="M46.09 510.58L49.60 508.54L49.60 512.61Z" fill="#000080"/>
<path d="M50.62 508.12L54.14 506.08L54.14 510.15Z" fill="#000080"/>
<path d="M55.15 505.72L58.67 503.68L58.67 507.75Z" fill="#000080"/>
<path d="M64.22 501.03L67.73 498.99L67.73 503.06Z" fill="#000080"/>
<path d="M73.28 496.66L76.79 494.62L76.79 498.69Z" fill="#000080"/>
<path d="M82.34 492.67L85.86 490.63L85.86 494.70Z" fill="#000080"/>
<path d="M91.40 488.90L94.92 486.87L94.92 490.94Z" fill="#000080"/>
<path d="M100.47 485.36L103.98 483.32L103.98 487.39Z" fill="#000080"/>
<path d="M109.53 482.04L113.04 480.00L113.04 484.07Z" fill="#000080"/>
<path d="M136.72 473.39L140.23 471.35L140.23 475.42Z" fill="#000080"/>
<path d="M163.90 465.36L167.42 463.32L167.42 467.39Z" fill="#000080"/>
<path d="M191.09 459.38L194.60 457.35L194.60 461.42Z" fill="#000080"/>
<path d="M245.47 448.88L248.98 446.85L248.98 450.92Z" fill="#000080"/>
<polyline points="30.00,520.75 34.53,517.25 39.06,515.19 43.59,512.72 48.12,509.84 52.66,507.78 57.19,505.10 66.25,499.54 75.31,494.19 84.38,490.07 93.44,485.95 102.50,482.24 111.56,478.74 138.75,468.03 165.94,458.35 193.12,450.32 247.50,437.35" fill="none" stroke="#8000FF" stroke-width="0.9" stroke-linejoin="round"/>
<path d="M30.00 519.72V521.78M28.70 519.72H31.30M28.70 521.78H31.30 M34.53 515.87V518.63M33.23 515.87H35.83M33.23 518.63H35.83 M39.06 513.60V516.78M37.76 513.60H40.36M37.76 516.78H40.36 M43.59 510.89V514.55M42.29 510.89H44.89M42.29 514.55H44.89 M48.12 507.71V511.96M46.83 507.71H49.42M46.83 511.96H49.42 M52.66 505.45V510.10M51.36 505.45H53.96M51.36 510.10H53.96 M57.19 502.50V507.69M55.89 502.50H58.49M55.89 507.69H58.49 M66.25 496.39V502.69M64.95 496.39H67.55M64.95 502.69H67.55 M75.31 490.50V497.87M74.01 490.50H76.61M74.01 497.87H76.61 M84.38 485.97V494.16M83.08 485.97H85.67M83.08 494.16H85.67 M93.44 481.44V490.46M92.14 481.44H94.74M92.14 490.46H94.74 M102.50 477.36V487.12M101.20 477.36H103.80M101.20 487.12H103.80 M111.56 473.51V483.97M110.26 473.51H112.86M110.26 483.97H112.86 M138.75 461.73V474.33M137.45 461.73H140.05M137.45 474.33H140.05 M165.94 451.08V465.62M164.64 451.08H167.24M164.64 465.62H167.24 M193.12 442.25V458.39M191.82 442.25H194.43M191.82 458.39H194.43 M247.50 427.98V446.72M246.20 427.98H248.80M246.20 446.72H248.80" stroke="#8000FF" stroke-width="0.55" fill="none" opacity="0.6"/>
<path d="M32.03 520.75L28.52 518.72L28.52 522.78Z" fill="#8000FF"/>
<path d="M36.57 517.25L33.05 515.21L33.05 519.28Z" fill="#8000FF"/>
<path d="M41.10 515.19L37.58 513.15L37.58 517.22Z" fill="#8000FF"/>
<path d="M45.63 512.72L42.11 510.68L42.11 514.75Z" fill="#8000FF"/>
<path d="M50.16 509.84L46.65 507.80L46.65 511.87Z" fill="#8000FF"/>
<path d="M54.69 507.78L51.18 505.74L51.18 509.81Z" fill="#8000FF"/>
<path d="M59.22 505.10L55.71 503.06L55.71 507.13Z" fill="#8000FF"/>
<path d="M68.28 499.54L64.77 497.50L64.77 501.57Z" fill="#8000FF"/>
<path d="M77.35 494.19L73.83 492.15L73.83 496.22Z" fill="#8000FF"/>
<path d="M86.41 490.07L82.89 488.03L82.89 492.10Z" fill="#8000FF"/>
<path d="M95.47 485.95L91.96 483.91L91.96 487.98Z" fill="#8000FF"/>
<path d="M104.53 482.24L101.02 480.21L101.02 484.28Z" fill="#8000FF"/>
<path d="M113.60 478.74L110.08 476.71L110.08 480.78Z" fill="#8000FF"/>
<path d="M140.78 468.03L137.27 466.00L137.27 470.07Z" fill="#8000FF"/>
<path d="M167.97 458.35L164.46 456.32L164.46 460.39Z" fill="#8000FF"/>
<path d="M195.16 450.32L191.65 448.29L191.65 452.36Z" fill="#8000FF"/>
<path d="M249.53 437.35L246.02 435.31L246.02 439.38Z" fill="#8000FF"/>
<polyline points="30.00,520.75 34.53,510.45 39.06,500.36 43.59,492.95 48.12,486.57 52.66,480.39 57.19,475.45 66.25,467.21 75.31,461.24 84.38,455.88 93.44,451.15 102.50,448.26 111.56,445.38 138.75,440.85 165.94,437.76 193.12,435.70 247.50,434.67" fill="none" stroke="#800080" stroke-width="0.9" stroke-linejoin="round"/>
<path d="M30.00 519.10V522.40M28.70 519.10H31.30M28.70 522.40H31.30 M34.53 507.26V513.65M33.23 507.26H35.83M33.23 513.65H35.83 M39.06 495.66V505.07M37.76 495.66H40.36M37.76 505.07H40.36 M43.59 487.13V498.77M42.29 487.13H44.89M42.29 498.77H44.89 M48.12 479.79V493.34M46.83 479.79H49.42M46.83 493.34H49.42 M52.66 472.69V488.09M51.36 472.69H53.96M51.36 488.09H53.96 M57.19 467.00V483.89M55.89 467.00H58.49M55.89 483.89H58.49 M66.25 457.53V476.89M64.95 457.53H67.55M64.95 476.89H67.55 M75.31 450.66V471.81M74.01 450.66H76.61M74.01 471.81H76.61 M84.38 444.50V467.26M83.08 444.50H85.67M83.08 467.26H85.67 M93.44 439.06V463.23M92.14 439.06H94.74M92.14 463.23H94.74 M102.50 435.74V460.78M101.20 435.74H103.80M101.20 460.78H103.80 M111.56 432.43V458.33M110.26 432.43H112.86M110.26 458.33H112.86 M138.75 427.22V454.48M137.45 427.22H140.05M137.45 454.48H140.05 M165.94 423.66V451.86M164.64 423.66H167.24M164.64 451.86H167.24 M193.12 421.30V450.11M191.82 421.30H194.43M191.82 450.11H194.43 M247.50 420.11V449.23M246.20 420.11H248.80M246.20 449.23H248.80" stroke="#800080" stroke-width="0.55" fill="none" opacity="0.6"/>
<circle cx="30.00" cy="520.75" r="1.85" fill="#800080"/>
<circle cx="34.53" cy="510.45" r="1.85" fill="#800080"/>
<circle cx="39.06" cy="500.36" r="1.85" fill="#800080"/>
<circle cx="43.59" cy="492.95" r="1.85" fill="#800080"/>
<circle cx="48.12" cy="486.57" r="1.85" fill="#800080"/>
<circle cx="52.66" cy="480.39" r="1.85" fill="#800080"/>
<circle cx="57.19" cy="475.45" r="1.85" fill="#800080"/>
<circle cx="66.25" cy="467.21" r="1.85" fill="#800080"/>
<circle cx="75.31" cy="461.24" r="1.85" fill="#800080"/>
<circle cx="84.38" cy="455.88" r="1.85" fill="#800080"/>
<circle cx="93.44" cy="451.15" r="1.85" fill="#800080"/>
<circle cx="102.50" cy="448.26" r="1.85" fill="#800080"/>
<circle cx="111.56" cy="445.38" r="1.85" fill="#800080"/>
<circle cx="138.75" cy="440.85" r="1.85" fill="#800080"/>
<circle cx="165.94" cy="437.76" r="1.85" fill="#800080"/>
<circle cx="193.12" cy="435.70" r="1.85" fill="#800080"/>
<circle cx="247.50" cy="434.67" r="1.85" fill="#800080"/>
<path d="M32.60 379.40H46.00" stroke="#000000" stroke-width="0.9"/>
<rect x="37.63" y="377.73" width="3.33" height="3.33" fill="#000000"/>
<text x="47.60" y="381.70" class="lg" textLength="32.03" lengthAdjust="spacingAndGlyphs">Sample 1 (9)</text>
<path d="M32.60 386.80H46.00" stroke="#FF0000" stroke-width="0.9"/>
<circle cx="39.30" cy="386.80" r="1.85" fill="#FF0000"/>
<text x="47.60" y="389.10" class="lg" textLength="32.03" lengthAdjust="spacingAndGlyphs">Sample 2 (9)</text>
<path d="M32.60 394.20H46.00" stroke="#0000FF" stroke-width="0.9"/>
<path d="M39.30 392.16L41.33 395.68L37.27 395.68Z" fill="#0000FF"/>
<text x="47.60" y="396.50" class="lg" textLength="34.90" lengthAdjust="spacingAndGlyphs">Sample 3 (11)</text>
<path d="M32.60 401.60H46.00" stroke="#FF00FF" stroke-width="0.9"/>
<path d="M39.30 403.63L41.33 400.12L37.27 400.12Z" fill="#FF00FF"/>
<text x="47.60" y="403.90" class="lg" textLength="35.13" lengthAdjust="spacingAndGlyphs">Sample 4 (13)</text>
<path d="M32.60 409.00H46.00" stroke="#008000" stroke-width="0.9"/>
<path d="M39.30 406.87L41.15 409.00L39.30 411.13L37.45 409.00Z" fill="#008000"/>
<text x="47.60" y="411.30" class="lg" textLength="35.13" lengthAdjust="spacingAndGlyphs">Sample 5 (13)</text>
<path d="M32.60 416.40H46.00" stroke="#000080" stroke-width="0.9"/>
<path d="M37.27 416.40L40.78 414.36L40.78 418.44Z" fill="#000080"/>
<text x="47.60" y="418.70" class="lg" textLength="35.13" lengthAdjust="spacingAndGlyphs">Sample 6 (13)</text>
<path d="M32.60 423.80H46.00" stroke="#8000FF" stroke-width="0.9"/>
<path d="M41.33 423.80L37.82 421.76L37.82 425.83Z" fill="#8000FF"/>
<text x="47.60" y="426.10" class="lg" textLength="35.13" lengthAdjust="spacingAndGlyphs">Sample 7 (16)</text>
<path d="M32.60 431.20H46.00" stroke="#800080" stroke-width="0.9"/>
<circle cx="39.30" cy="431.20" r="1.85" fill="#800080"/>
<text x="47.60" y="433.50" class="lg" textLength="35.13" lengthAdjust="spacingAndGlyphs">Sample 8 (30)</text>
<path d="M289.75 5.10V153.10H505.50" stroke="#555" stroke-width="1" fill="none"/>
<text x="286.15" y="155.50" text-anchor="end" class="tk" textLength="3.75" lengthAdjust="spacingAndGlyphs">0</text>
<text x="286.15" y="137.06" text-anchor="end" class="tk" textLength="3.75" lengthAdjust="spacingAndGlyphs">5</text>
<text x="286.15" y="118.62" text-anchor="end" class="tk" textLength="7.50" lengthAdjust="spacingAndGlyphs">10</text>
<text x="286.15" y="100.19" text-anchor="end" class="tk" textLength="7.50" lengthAdjust="spacingAndGlyphs">15</text>
<text x="286.15" y="81.75" text-anchor="end" class="tk" textLength="7.50" lengthAdjust="spacingAndGlyphs">20</text>
<text x="286.15" y="63.31" text-anchor="end" class="tk" textLength="7.50" lengthAdjust="spacingAndGlyphs">25</text>
<text x="286.15" y="44.87" text-anchor="end" class="tk" textLength="7.50" lengthAdjust="spacingAndGlyphs">30</text>
<text x="286.15" y="26.44" text-anchor="end" class="tk" textLength="7.50" lengthAdjust="spacingAndGlyphs">35</text>
<text x="286.15" y="8.00" text-anchor="end" class="tk" textLength="7.50" lengthAdjust="spacingAndGlyphs">40</text>
<text x="289.75" y="163.10" text-anchor="middle" class="tk" textLength="3.75" lengthAdjust="spacingAndGlyphs">0</text>
<text x="316.66" y="163.10" text-anchor="middle" class="tk" textLength="7.50" lengthAdjust="spacingAndGlyphs">30</text>
<text x="343.56" y="163.10" text-anchor="middle" class="tk" textLength="7.50" lengthAdjust="spacingAndGlyphs">60</text>
<text x="370.47" y="163.10" text-anchor="middle" class="tk" textLength="7.50" lengthAdjust="spacingAndGlyphs">90</text>
<text x="397.38" y="163.10" text-anchor="middle" class="tk" textLength="11.25" lengthAdjust="spacingAndGlyphs">120</text>
<text x="424.28" y="163.10" text-anchor="middle" class="tk" textLength="11.25" lengthAdjust="spacingAndGlyphs">150</text>
<text x="451.19" y="163.10" text-anchor="middle" class="tk" textLength="11.25" lengthAdjust="spacingAndGlyphs">180</text>
<text x="478.09" y="163.10" text-anchor="middle" class="tk" textLength="11.25" lengthAdjust="spacingAndGlyphs">210</text>
<text x="505.00" y="163.10" text-anchor="middle" class="tk" textLength="11.25" lengthAdjust="spacingAndGlyphs">240</text>
<path d="M287.15 153.10H289.75 M287.15 134.66H289.75 M287.15 116.22H289.75 M287.15 97.79H289.75 M287.15 79.35H289.75 M287.15 60.91H289.75 M287.15 42.47H289.75 M287.15 24.04H289.75 M287.15 5.60H289.75 M289.75 153.10V155.70 M316.66 153.10V155.70 M343.56 153.10V155.70 M370.47 153.10V155.70 M397.38 153.10V155.70 M424.28 153.10V155.70 M451.19 153.10V155.70 M478.09 153.10V155.70 M505.00 153.10V155.70" stroke="#555" stroke-width="1.0" fill="none"/>
<text x="397.77" y="176.10" text-anchor="middle" class="xl" textLength="69.2" lengthAdjust="spacingAndGlyphs">Digestion time (min)</text>
<text transform="translate(262.40,89.90) rotate(-90)" x="0" y="0" text-anchor="middle" class="yl" textLength="80.5" lengthAdjust="spacingAndGlyphs">Reducing sugar content</text>
<text transform="translate(271.90,89.90) rotate(-90)" x="0" y="0" text-anchor="middle" class="yl" textLength="79.1" lengthAdjust="spacingAndGlyphs">(mmol/g carbohydrate)</text>
<text x="265.20" y="10.20" class="lt">D</text>
<polyline points="289.75,118.07 298.72,115.49 307.69,113.64 316.66,114.75 325.62,112.91 343.56,110.32 370.47,109.22 397.38,108.48 451.19,106.27 505.00,106.82" fill="none" stroke="#000000" stroke-width="0.9" stroke-linejoin="round"/>
<path d="M289.75 115.49V120.65M288.45 115.49H291.05M288.45 120.65H291.05 M298.72 112.91V118.07M297.42 112.91H300.02M297.42 118.07H300.02 M307.69 111.06V116.22M306.39 111.06H308.99M306.39 116.22H308.99 M316.66 112.17V117.33M315.36 112.17H317.96M315.36 117.33H317.96 M325.62 110.32V115.49M324.32 110.32H326.93M324.32 115.49H326.93 M343.56 107.74V112.91M342.26 107.74H344.86M342.26 112.91H344.86 M370.47 106.64V111.80M369.17 106.64H371.77M369.17 111.80H371.77 M397.38 105.90V111.06M396.07 105.90H398.68M396.07 111.06H398.68 M451.19 103.69V108.85M449.89 103.69H452.49M449.89 108.85H452.49 M505.00 104.24V109.40M503.70 104.24H506.30M503.70 109.40H506.30" stroke="#000000" stroke-width="0.55" fill="none" opacity="0.6"/>
<rect x="288.08" y="116.40" width="3.33" height="3.33" fill="#000000"/>
<rect x="297.05" y="113.82" width="3.33" height="3.33" fill="#000000"/>
<rect x="306.02" y="111.98" width="3.33" height="3.33" fill="#000000"/>
<rect x="314.99" y="113.08" width="3.33" height="3.33" fill="#000000"/>
<rect x="323.96" y="111.24" width="3.33" height="3.33" fill="#000000"/>
<rect x="341.90" y="108.66" width="3.33" height="3.33" fill="#000000"/>
<rect x="368.80" y="107.55" width="3.33" height="3.33" fill="#000000"/>
<rect x="395.71" y="106.82" width="3.33" height="3.33" fill="#000000"/>
<rect x="449.52" y="104.60" width="3.33" height="3.33" fill="#000000"/>
<rect x="503.33" y="105.16" width="3.33" height="3.33" fill="#000000"/>
<polyline points="289.75,145.72 298.72,143.14 307.69,140.93 316.66,139.46 325.62,140.19 343.56,140.93 370.47,139.09 397.38,137.24 451.19,134.29 505.00,133.00" fill="none" stroke="#FF0000" stroke-width="0.9" stroke-linejoin="round"/>
<path d="M289.75 143.14V148.31M288.45 143.14H291.05M288.45 148.31H291.05 M298.72 140.56V145.72M297.42 140.56H300.02M297.42 145.72H300.02 M307.69 138.35V143.51M306.39 138.35H308.99M306.39 143.51H308.99 M316.66 136.88V142.04M315.36 136.88H317.96M315.36 142.04H317.96 M325.62 137.61V142.78M324.32 137.61H326.93M324.32 142.78H326.93 M343.56 138.35V143.51M342.26 138.35H344.86M342.26 143.51H344.86 M370.47 136.51V141.67M369.17 136.51H371.77M369.17 141.67H371.77 M397.38 134.66V139.82M396.07 134.66H398.68M396.07 139.82H398.68 M451.19 131.71V136.88M449.89 131.71H452.49M449.89 136.88H452.49 M505.00 130.42V135.58M503.70 130.42H506.30M503.70 135.58H506.30" stroke="#FF0000" stroke-width="0.55" fill="none" opacity="0.6"/>
<circle cx="289.75" cy="145.72" r="1.85" fill="#FF0000"/>
<circle cx="298.72" cy="143.14" r="1.85" fill="#FF0000"/>
<circle cx="307.69" cy="140.93" r="1.85" fill="#FF0000"/>
<circle cx="316.66" cy="139.46" r="1.85" fill="#FF0000"/>
<circle cx="325.62" cy="140.19" r="1.85" fill="#FF0000"/>
<circle cx="343.56" cy="140.93" r="1.85" fill="#FF0000"/>
<circle cx="370.47" cy="139.09" r="1.85" fill="#FF0000"/>
<circle cx="397.38" cy="137.24" r="1.85" fill="#FF0000"/>
<circle cx="451.19" cy="134.29" r="1.85" fill="#FF0000"/>
<circle cx="505.00" cy="133.00" r="1.85" fill="#FF0000"/>
<polyline points="289.75,132.08 298.72,130.24 307.69,126.92 316.66,127.29 325.62,126.55 343.56,124.71 370.47,123.23 397.38,119.54 451.19,115.86 505.00,114.38" fill="none" stroke="#0000FF" stroke-width="0.9" stroke-linejoin="round"/>
<path d="M289.75 129.87V134.29M288.45 129.87H291.05M288.45 134.29H291.05 M298.72 128.03V132.45M297.42 128.03H300.02M297.42 132.45H300.02 M307.69 124.71V129.13M306.39 124.71H308.99M306.39 129.13H308.99 M316.66 125.07V129.50M315.36 125.07H317.96M315.36 129.50H317.96 M325.62 124.34V128.76M324.32 124.34H326.93M324.32 128.76H326.93 M343.56 122.49V126.92M342.26 122.49H344.86M342.26 126.92H344.86 M370.47 121.02V125.44M369.17 121.02H371.77M369.17 125.44H371.77 M397.38 117.33V121.76M396.07 117.33H398.68M396.07 121.76H398.68 M451.19 113.64V118.07M449.89 113.64H452.49M449.89 118.07H452.49 M505.00 112.17V116.59M503.70 112.17H506.30M503.70 116.59H506.30" stroke="#0000FF" stroke-width="0.55" fill="none" opacity="0.6"/>
<path d="M289.75 130.05L291.79 133.56L287.71 133.56Z" fill="#0000FF"/>
<path d="M298.72 128.20L300.75 131.72L296.68 131.72Z" fill="#0000FF"/>
<path d="M307.69 124.88L309.72 128.40L305.65 128.40Z" fill="#0000FF"/>
<path d="M316.66 125.25L318.69 128.77L314.62 128.77Z" fill="#0000FF"/>
<path d="M325.62 124.52L327.66 128.03L323.59 128.03Z" fill="#0000FF"/>
<path d="M343.56 122.67L345.60 126.19L341.53 126.19Z" fill="#0000FF"/>
<path d="M370.47 121.20L372.50 124.71L368.43 124.71Z" fill="#0000FF"/>
<path d="M397.38 117.51L399.41 121.02L395.34 121.02Z" fill="#0000FF"/>
<path d="M451.19 113.82L453.22 117.34L449.15 117.34Z" fill="#0000FF"/>
<path d="M505.00 112.35L507.04 115.86L502.96 115.86Z" fill="#0000FF"/>
<polyline points="289.75,140.01 298.72,136.51 307.69,134.29 316.66,132.82 325.62,130.97 343.56,129.13 370.47,128.03 397.38,126.92 451.19,126.92 505.00,126.92" fill="none" stroke="#FF00FF" stroke-width="0.9" stroke-linejoin="round"/>
<path d="M289.75 137.80V142.22M288.45 137.80H291.05M288.45 142.22H291.05 M298.72 134.29V138.72M297.42 134.29H300.02M297.42 138.72H300.02 M307.69 132.08V136.51M306.39 132.08H308.99M306.39 136.51H308.99 M316.66 130.61V135.03M315.36 130.61H317.96M315.36 135.03H317.96 M325.62 128.76V133.19M324.32 128.76H326.93M324.32 133.19H326.93 M343.56 126.92V131.34M342.26 126.92H344.86M342.26 131.34H344.86 M370.47 125.81V130.24M369.17 125.81H371.77M369.17 130.24H371.77 M397.38 124.71V129.13M396.07 124.71H398.68M396.07 129.13H398.68 M451.19 124.71V129.13M449.89 124.71H452.49M449.89 129.13H452.49 M505.00 124.71V129.13M503.70 124.71H506.30M503.70 129.13H506.30" stroke="#FF00FF" stroke-width="0.55" fill="none" opacity="0.6"/>
<path d="M289.75 142.04L291.79 138.53L287.71 138.53Z" fill="#FF00FF"/>
<path d="M298.72 138.54L300.75 135.03L296.68 135.03Z" fill="#FF00FF"/>
<path d="M307.69 136.33L309.72 132.81L305.65 132.81Z" fill="#FF00FF"/>
<path d="M316.66 134.85L318.69 131.34L314.62 131.34Z" fill="#FF00FF"/>
<path d="M325.62 133.01L327.66 129.50L323.59 129.50Z" fill="#FF00FF"/>
<path d="M343.56 131.17L345.60 127.65L341.53 127.65Z" fill="#FF00FF"/>
<path d="M370.47 130.06L372.50 126.55L368.43 126.55Z" fill="#FF00FF"/>
<path d="M397.38 128.95L399.41 125.44L395.34 125.44Z" fill="#FF00FF"/>
<path d="M451.19 128.95L453.22 125.44L449.15 125.44Z" fill="#FF00FF"/>
<path d="M505.00 128.95L507.04 125.44L502.96 125.44Z" fill="#FF00FF"/>
<polyline points="289.75,133.56 298.72,130.24 307.69,127.29 316.66,127.29 325.62,127.29 343.56,127.29 370.47,124.34 397.38,124.71 451.19,122.49 505.00,119.17" fill="none" stroke="#008000" stroke-width="0.9" stroke-linejoin="round"/>
<path d="M289.75 131.34V135.77M288.45 131.34H291.05M288.45 135.77H291.05 M298.72 128.03V132.45M297.42 128.03H300.02M297.42 132.45H300.02 M307.69 125.07V129.50M306.39 125.07H308.99M306.39 129.50H308.99 M316.66 125.07V129.50M315.36 125.07H317.96M315.36 129.50H317.96 M325.62 125.07V129.50M324.32 125.07H326.93M324.32 129.50H326.93 M343.56 125.07V129.50M342.26 125.07H344.86M342.26 129.50H344.86 M370.47 122.12V126.55M369.17 122.12H371.77M369.17 126.55H371.77 M397.38 122.49V126.92M396.07 122.49H398.68M396.07 126.92H398.68 M451.19 120.28V124.71M449.89 120.28H452.49M449.89 124.71H452.49 M505.00 116.96V121.39M503.70 116.96H506.30M503.70 121.39H506.30" stroke="#008000" stroke-width="0.55" fill="none" opacity="0.6"/>
<path d="M289.75 131.43L291.60 133.56L289.75 135.68L287.90 133.56Z" fill="#008000"/>
<path d="M298.72 128.11L300.57 130.24L298.72 132.36L296.87 130.24Z" fill="#008000"/>
<path d="M307.69 125.16L309.54 127.29L307.69 129.41L305.84 127.29Z" fill="#008000"/>
<path d="M316.66 125.16L318.51 127.29L316.66 129.41L314.81 127.29Z" fill="#008000"/>
<path d="M325.62 125.16L327.48 127.29L325.62 129.41L323.77 127.29Z" fill="#008000"/>
<path d="M343.56 125.16L345.41 127.29L343.56 129.41L341.71 127.29Z" fill="#008000"/>
<path d="M370.47 122.21L372.32 124.34L370.47 126.46L368.62 124.34Z" fill="#008000"/>
<path d="M397.38 122.58L399.23 124.71L397.38 126.83L395.52 124.71Z" fill="#008000"/>
<path d="M451.19 120.37L453.04 122.49L451.19 124.62L449.34 122.49Z" fill="#008000"/>
<path d="M505.00 117.05L506.85 119.17L505.00 121.30L503.15 119.17Z" fill="#008000"/>
<polyline points="289.75,145.72 298.72,140.19 307.69,140.19 316.66,139.46 325.62,140.93 343.56,140.93 370.47,139.09 397.38,136.51 451.19,131.34 505.00,131.34" fill="none" stroke="#000080" stroke-width="0.9" stroke-linejoin="round"/>
<path d="M289.75 143.51V147.94M288.45 143.51H291.05M288.45 147.94H291.05 M298.72 137.98V142.41M297.42 137.98H300.02M297.42 142.41H300.02 M307.69 137.98V142.41M306.39 137.98H308.99M306.39 142.41H308.99 M316.66 137.24V141.67M315.36 137.24H317.96M315.36 141.67H317.96 M325.62 138.72V143.14M324.32 138.72H326.93M324.32 143.14H326.93 M343.56 138.72V143.14M342.26 138.72H344.86M342.26 143.14H344.86 M370.47 136.88V141.30M369.17 136.88H371.77M369.17 141.30H371.77 M397.38 134.29V138.72M396.07 134.29H398.68M396.07 138.72H398.68 M451.19 129.13V133.56M449.89 129.13H452.49M449.89 133.56H452.49 M505.00 129.13V133.56M503.70 129.13H506.30M503.70 133.56H506.30" stroke="#000080" stroke-width="0.55" fill="none" opacity="0.6"/>
<path d="M287.71 145.72L291.23 143.69L291.23 147.76Z" fill="#000080"/>
<path d="M296.68 140.19L300.20 138.16L300.20 142.23Z" fill="#000080"/>
<path d="M305.65 140.19L309.17 138.16L309.17 142.23Z" fill="#000080"/>
<path d="M314.62 139.46L318.14 137.42L318.14 141.49Z" fill="#000080"/>
<path d="M323.59 140.93L327.11 138.90L327.11 142.97Z" fill="#000080"/>
<path d="M341.53 140.93L345.04 138.90L345.04 142.97Z" fill="#000080"/>
<path d="M368.43 139.09L371.95 137.05L371.95 141.12Z" fill="#000080"/>
<path d="M395.34 136.51L398.86 134.47L398.86 138.54Z" fill="#000080"/>
<path d="M449.15 131.34L452.67 129.31L452.67 133.38Z" fill="#000080"/>
<path d="M502.96 131.34L506.48 129.31L506.48 133.38Z" fill="#000080"/>
<polyline points="289.75,145.72 298.72,143.14 307.69,140.19 316.66,138.72 325.62,137.61 343.56,137.61 370.47,135.40 397.38,132.08 451.19,125.44 505.00,126.18" fill="none" stroke="#8000FF" stroke-width="0.9" stroke-linejoin="round"/>
<path d="M289.75 143.88V147.57M288.45 143.88H291.05M288.45 147.57H291.05 M298.72 138.72V147.57M297.42 138.72H300.02M297.42 147.57H300.02 M307.69 135.77V144.62M306.39 135.77H308.99M306.39 144.62H308.99 M316.66 134.29V143.14M315.36 134.29H317.96M315.36 143.14H317.96 M325.62 133.19V142.04M324.32 133.19H326.93M324.32 142.04H326.93 M343.56 135.77V139.46M342.26 135.77H344.86M342.26 139.46H344.86 M370.47 133.56V137.24M369.17 133.56H371.77M369.17 137.24H371.77 M397.38 130.24V133.92M396.07 130.24H398.68M396.07 133.92H398.68 M451.19 123.60V127.29M449.89 123.60H452.49M449.89 127.29H452.49 M505.00 124.34V128.03M503.70 124.34H506.30M503.70 128.03H506.30" stroke="#8000FF" stroke-width="0.55" fill="none" opacity="0.6"/>
<path d="M291.79 145.72L288.27 143.69L288.27 147.76Z" fill="#8000FF"/>
<path d="M300.75 143.14L297.24 141.11L297.24 145.18Z" fill="#8000FF"/>
<path d="M309.72 140.19L306.21 138.16L306.21 142.23Z" fill="#8000FF"/>
<path d="M318.69 138.72L315.18 136.68L315.18 140.75Z" fill="#8000FF"/>
<path d="M327.66 137.61L324.14 135.58L324.14 139.65Z" fill="#8000FF"/>
<path d="M345.60 137.61L342.08 135.58L342.08 139.65Z" fill="#8000FF"/>
<path d="M372.50 135.40L368.99 133.37L368.99 137.44Z" fill="#8000FF"/>
<path d="M399.41 132.08L395.89 130.05L395.89 134.12Z" fill="#8000FF"/>
<path d="M453.22 125.44L449.71 123.41L449.71 127.48Z" fill="#8000FF"/>
<path d="M507.04 126.18L503.52 124.15L503.52 128.22Z" fill="#8000FF"/>
<polyline points="289.75,109.22 298.72,105.16 307.69,104.06 316.66,103.69 325.62,104.06 343.56,101.84 370.47,100.37 397.38,99.63 451.19,96.68 505.00,94.10" fill="none" stroke="#800080" stroke-width="0.9" stroke-linejoin="round"/>
<path d="M289.75 106.27V112.17M288.45 106.27H291.05M288.45 112.17H291.05 M298.72 102.21V108.11M297.42 102.21H300.02M297.42 108.11H300.02 M307.69 101.11V107.01M306.39 101.11H308.99M306.39 107.01H308.99 M316.66 100.74V106.64M315.36 100.74H317.96M315.36 106.64H317.96 M325.62 101.11V107.01M324.32 101.11H326.93M324.32 107.01H326.93 M343.56 98.89V104.79M342.26 98.89H344.86M342.26 104.79H344.86 M370.47 97.42V103.32M369.17 97.42H371.77M369.17 103.32H371.77 M397.38 96.68V102.58M396.07 96.68H398.68M396.07 102.58H398.68 M451.19 93.73V99.63M449.89 93.73H452.49M449.89 99.63H452.49 M505.00 91.15V97.05M503.70 91.15H506.30M503.70 97.05H506.30" stroke="#800080" stroke-width="0.55" fill="none" opacity="0.6"/>
<circle cx="289.75" cy="109.22" r="1.85" fill="#800080"/>
<circle cx="298.72" cy="105.16" r="1.85" fill="#800080"/>
<circle cx="307.69" cy="104.06" r="1.85" fill="#800080"/>
<circle cx="316.66" cy="103.69" r="1.85" fill="#800080"/>
<circle cx="325.62" cy="104.06" r="1.85" fill="#800080"/>
<circle cx="343.56" cy="101.84" r="1.85" fill="#800080"/>
<circle cx="370.47" cy="100.37" r="1.85" fill="#800080"/>
<circle cx="397.38" cy="99.63" r="1.85" fill="#800080"/>
<circle cx="451.19" cy="96.68" r="1.85" fill="#800080"/>
<circle cx="505.00" cy="94.10" r="1.85" fill="#800080"/>
<path d="M450.40 6.80H464.50" stroke="#000000" stroke-width="0.9"/>
<rect x="455.78" y="5.13" width="3.33" height="3.33" fill="#000000"/>
<text x="466.10" y="9.10" class="lg" textLength="32.03" lengthAdjust="spacingAndGlyphs">Sample 1 (9)</text>
<path d="M450.40 14.43H464.50" stroke="#FF0000" stroke-width="0.9"/>
<circle cx="457.45" cy="14.43" r="1.85" fill="#FF0000"/>
<text x="466.10" y="16.73" class="lg" textLength="32.03" lengthAdjust="spacingAndGlyphs">Sample 2 (9)</text>
<path d="M450.40 22.06H464.50" stroke="#0000FF" stroke-width="0.9"/>
<path d="M457.45 20.02L459.49 23.54L455.41 23.54Z" fill="#0000FF"/>
<text x="466.10" y="24.36" class="lg" textLength="34.90" lengthAdjust="spacingAndGlyphs">Sample 3 (11)</text>
<path d="M450.40 29.69H464.50" stroke="#FF00FF" stroke-width="0.9"/>
<path d="M457.45 31.73L459.49 28.21L455.41 28.21Z" fill="#FF00FF"/>
<text x="466.10" y="31.99" class="lg" textLength="35.13" lengthAdjust="spacingAndGlyphs">Sample 4 (13)</text>
<path d="M450.40 37.32H464.50" stroke="#008000" stroke-width="0.9"/>
<path d="M457.45 35.19L459.30 37.32L457.45 39.45L455.60 37.32Z" fill="#008000"/>
<text x="466.10" y="39.62" class="lg" textLength="35.13" lengthAdjust="spacingAndGlyphs">Sample 5 (13)</text>
<path d="M450.40 44.95H464.50" stroke="#000080" stroke-width="0.9"/>
<path d="M455.41 44.95L458.93 42.91L458.93 46.98Z" fill="#000080"/>
<text x="466.10" y="47.25" class="lg" textLength="35.13" lengthAdjust="spacingAndGlyphs">Sample 6 (13)</text>
<path d="M450.40 52.58H464.50" stroke="#8000FF" stroke-width="0.9"/>
<path d="M459.49 52.58L455.97 50.55L455.97 54.61Z" fill="#8000FF"/>
<text x="466.10" y="54.88" class="lg" textLength="35.13" lengthAdjust="spacingAndGlyphs">Sample 7 (16)</text>
<path d="M450.40 60.21H464.50" stroke="#800080" stroke-width="0.9"/>
<circle cx="457.45" cy="60.21" r="1.85" fill="#800080"/>
<text x="466.10" y="62.51" class="lg" textLength="32.03" lengthAdjust="spacingAndGlyphs">Sample 8 (3)</text>
<path d="M288.25 190.25V338.75H504.50" stroke="#555" stroke-width="1" fill="none"/>
<text x="284.65" y="341.15" text-anchor="end" class="tk" textLength="3.75" lengthAdjust="spacingAndGlyphs">0</text>
<text x="284.65" y="322.65" text-anchor="end" class="tk" textLength="3.75" lengthAdjust="spacingAndGlyphs">5</text>
<text x="284.65" y="304.15" text-anchor="end" class="tk" textLength="7.50" lengthAdjust="spacingAndGlyphs">10</text>
<text x="284.65" y="285.65" text-anchor="end" class="tk" textLength="7.50" lengthAdjust="spacingAndGlyphs">15</text>
<text x="284.65" y="267.15" text-anchor="end" class="tk" textLength="7.50" lengthAdjust="spacingAndGlyphs">20</text>
<text x="284.65" y="248.65" text-anchor="end" class="tk" textLength="7.50" lengthAdjust="spacingAndGlyphs">25</text>
<text x="284.65" y="230.15" text-anchor="end" class="tk" textLength="7.50" lengthAdjust="spacingAndGlyphs">30</text>
<text x="284.65" y="211.65" text-anchor="end" class="tk" textLength="7.50" lengthAdjust="spacingAndGlyphs">35</text>
<text x="284.65" y="193.15" text-anchor="end" class="tk" textLength="7.50" lengthAdjust="spacingAndGlyphs">40</text>
<text x="288.25" y="348.75" text-anchor="middle" class="tk" textLength="3.75" lengthAdjust="spacingAndGlyphs">0</text>
<text x="315.22" y="348.75" text-anchor="middle" class="tk" textLength="7.50" lengthAdjust="spacingAndGlyphs">30</text>
<text x="342.19" y="348.75" text-anchor="middle" class="tk" textLength="7.50" lengthAdjust="spacingAndGlyphs">60</text>
<text x="369.16" y="348.75" text-anchor="middle" class="tk" textLength="7.50" lengthAdjust="spacingAndGlyphs">90</text>
<text x="396.12" y="348.75" text-anchor="middle" class="tk" textLength="11.25" lengthAdjust="spacingAndGlyphs">120</text>
<text x="423.09" y="348.75" text-anchor="middle" class="tk" textLength="11.25" lengthAdjust="spacingAndGlyphs">150</text>
<text x="450.06" y="348.75" text-anchor="middle" class="tk" textLength="11.25" lengthAdjust="spacingAndGlyphs">180</text>
<text x="477.03" y="348.75" text-anchor="middle" class="tk" textLength="11.25" lengthAdjust="spacingAndGlyphs">210</text>
<text x="504.00" y="348.75" text-anchor="middle" class="tk" textLength="11.25" lengthAdjust="spacingAndGlyphs">240</text>
<path d="M285.65 338.75H288.25 M285.65 320.25H288.25 M285.65 301.75H288.25 M285.65 283.25H288.25 M285.65 264.75H288.25 M285.65 246.25H288.25 M285.65 227.75H288.25 M285.65 209.25H288.25 M285.65 190.75H288.25 M288.25 338.75V341.35 M315.22 338.75V341.35 M342.19 338.75V341.35 M369.16 338.75V341.35 M396.12 338.75V341.35 M423.09 338.75V341.35 M450.06 338.75V341.35 M477.03 338.75V341.35 M504.00 338.75V341.35" stroke="#555" stroke-width="1.0" fill="none"/>
<text x="396.52" y="361.75" text-anchor="middle" class="xl" textLength="69.2" lengthAdjust="spacingAndGlyphs">Digestion time (min)</text>
<text transform="translate(262.40,270.70) rotate(-90)" x="0" y="0" text-anchor="middle" class="yl" textLength="80.5" lengthAdjust="spacingAndGlyphs">Reducing sugar content</text>
<text transform="translate(272.50,270.70) rotate(-90)" x="0" y="0" text-anchor="middle" class="yl" textLength="79.1" lengthAdjust="spacingAndGlyphs">(mmol/g carbohydrate)</text>
<text x="262.80" y="195.20" class="lt">E</text>
<polyline points="292.74,328.20 297.24,327.65 301.73,326.91 306.23,326.17 310.72,325.06 315.22,323.95 324.21,322.47 333.20,320.99 342.19,318.77 369.16,313.03 396.12,306.75 423.09,303.23 450.06,299.90 504.00,293.61" fill="none" stroke="#000000" stroke-width="0.9" stroke-linejoin="round"/>
<rect x="291.08" y="326.54" width="3.33" height="3.33" fill="#000000"/>
<rect x="295.57" y="325.98" width="3.33" height="3.33" fill="#000000"/>
<rect x="300.07" y="325.25" width="3.33" height="3.33" fill="#000000"/>
<rect x="304.56" y="324.50" width="3.33" height="3.33" fill="#000000"/>
<rect x="309.06" y="323.39" width="3.33" height="3.33" fill="#000000"/>
<rect x="313.55" y="322.28" width="3.33" height="3.33" fill="#000000"/>
<rect x="322.54" y="320.81" width="3.33" height="3.33" fill="#000000"/>
<rect x="331.53" y="319.32" width="3.33" height="3.33" fill="#000000"/>
<rect x="340.52" y="317.10" width="3.33" height="3.33" fill="#000000"/>
<rect x="367.49" y="311.37" width="3.33" height="3.33" fill="#000000"/>
<rect x="394.46" y="305.08" width="3.33" height="3.33" fill="#000000"/>
<rect x="421.43" y="301.56" width="3.33" height="3.33" fill="#000000"/>
<rect x="448.40" y="298.23" width="3.33" height="3.33" fill="#000000"/>
<rect x="502.33" y="291.94" width="3.33" height="3.33" fill="#000000"/>
<polyline points="292.74,328.02 297.24,326.54 301.73,325.06 306.23,323.95 310.72,322.84 315.22,321.73 324.21,319.14 333.20,316.55 342.19,313.59 369.16,309.52 396.12,306.00 423.09,301.38 450.06,299.16 504.00,293.06" fill="none" stroke="#FF0000" stroke-width="0.9" stroke-linejoin="round"/>
<circle cx="292.74" cy="328.02" r="1.85" fill="#FF0000"/>
<circle cx="297.24" cy="326.54" r="1.85" fill="#FF0000"/>
<circle cx="301.73" cy="325.06" r="1.85" fill="#FF0000"/>
<circle cx="306.23" cy="323.95" r="1.85" fill="#FF0000"/>
<circle cx="310.72" cy="322.84" r="1.85" fill="#FF0000"/>
<circle cx="315.22" cy="321.73" r="1.85" fill="#FF0000"/>
<circle cx="324.21" cy="319.14" r="1.85" fill="#FF0000"/>
<circle cx="333.20" cy="316.55" r="1.85" fill="#FF0000"/>
<circle cx="342.19" cy="313.59" r="1.85" fill="#FF0000"/>
<circle cx="369.16" cy="309.52" r="1.85" fill="#FF0000"/>
<circle cx="396.12" cy="306.00" r="1.85" fill="#FF0000"/>
<circle cx="423.09" cy="301.38" r="1.85" fill="#FF0000"/>
<circle cx="450.06" cy="299.16" r="1.85" fill="#FF0000"/>
<circle cx="504.00" cy="293.06" r="1.85" fill="#FF0000"/>
<polyline points="292.74,329.13 297.24,327.65 301.73,326.17 306.23,324.69 310.72,323.21 315.22,321.73 324.21,319.14 333.20,316.18 342.19,313.59 369.16,305.82 396.12,301.75 423.09,296.57 450.06,290.28 504.00,285.84" fill="none" stroke="#0000FF" stroke-width="0.9" stroke-linejoin="round"/>
<path d="M292.74 327.09L294.78 330.61L290.71 330.61Z" fill="#0000FF"/>
<path d="M297.24 325.61L299.27 329.13L295.20 329.13Z" fill="#0000FF"/>
<path d="M301.73 324.13L303.77 327.65L299.70 327.65Z" fill="#0000FF"/>
<path d="M306.23 322.65L308.26 326.17L304.19 326.17Z" fill="#0000FF"/>
<path d="M310.72 321.17L312.76 324.69L308.69 324.69Z" fill="#0000FF"/>
<path d="M315.22 319.69L317.25 323.21L313.18 323.21Z" fill="#0000FF"/>
<path d="M324.21 317.10L326.24 320.62L322.17 320.62Z" fill="#0000FF"/>
<path d="M333.20 314.14L335.23 317.66L331.16 317.66Z" fill="#0000FF"/>
<path d="M342.19 311.55L344.22 315.07L340.15 315.07Z" fill="#0000FF"/>
<path d="M369.16 303.78L371.19 307.30L367.12 307.30Z" fill="#0000FF"/>
<path d="M396.12 299.71L398.16 303.23L394.09 303.23Z" fill="#0000FF"/>
<path d="M423.09 294.53L425.13 298.05L421.06 298.05Z" fill="#0000FF"/>
<path d="M450.06 288.24L452.10 291.76L448.03 291.76Z" fill="#0000FF"/>
<path d="M504.00 283.80L506.04 287.32L501.96 287.32Z" fill="#0000FF"/>
<polyline points="292.74,332.83 297.24,330.61 301.73,329.50 306.23,328.20 310.72,326.54 315.22,324.88 324.21,321.73 333.20,318.03 342.19,314.33 369.16,309.70 396.12,304.89 423.09,298.61 450.06,293.61 504.00,285.84" fill="none" stroke="#FF00FF" stroke-width="0.9" stroke-linejoin="round"/>
<path d="M292.74 334.87L294.78 331.35L290.71 331.35Z" fill="#FF00FF"/>
<path d="M297.24 332.65L299.27 329.13L295.20 329.13Z" fill="#FF00FF"/>
<path d="M301.73 331.54L303.77 328.02L299.70 328.02Z" fill="#FF00FF"/>
<path d="M306.23 330.24L308.26 326.72L304.19 326.72Z" fill="#FF00FF"/>
<path d="M310.72 328.58L312.76 325.06L308.69 325.06Z" fill="#FF00FF"/>
<path d="M315.22 326.91L317.25 323.39L313.18 323.39Z" fill="#FF00FF"/>
<path d="M324.21 323.77L326.24 320.25L322.17 320.25Z" fill="#FF00FF"/>
<path d="M333.20 320.06L335.23 316.55L331.16 316.55Z" fill="#FF00FF"/>
<path d="M342.19 316.37L344.22 312.85L340.15 312.85Z" fill="#FF00FF"/>
<path d="M369.16 311.74L371.19 308.22L367.12 308.22Z" fill="#FF00FF"/>
<path d="M396.12 306.93L398.16 303.41L394.09 303.41Z" fill="#FF00FF"/>
<path d="M423.09 300.64L425.13 297.12L421.06 297.12Z" fill="#FF00FF"/>
<path d="M450.06 295.65L452.10 292.13L448.03 292.13Z" fill="#FF00FF"/>
<path d="M504.00 287.88L506.04 284.36L501.96 284.36Z" fill="#FF00FF"/>
<polyline points="292.74,328.02 297.24,326.91 301.73,325.43 306.23,323.95 310.72,322.10 315.22,320.62 324.21,318.03 333.20,315.07 342.19,312.48 369.16,304.71 396.12,301.01 423.09,295.83 450.06,288.06 504.00,283.62" fill="none" stroke="#008000" stroke-width="0.9" stroke-linejoin="round"/>
<path d="M292.74 325.89L294.59 328.02L292.74 330.15L290.89 328.02Z" fill="#008000"/>
<path d="M297.24 324.78L299.09 326.91L297.24 329.04L295.39 326.91Z" fill="#008000"/>
<path d="M301.73 323.30L303.58 325.43L301.73 327.56L299.88 325.43Z" fill="#008000"/>
<path d="M306.23 321.82L308.08 323.95L306.23 326.08L304.38 323.95Z" fill="#008000"/>
<path d="M310.72 319.97L312.57 322.10L310.72 324.23L308.87 322.10Z" fill="#008000"/>
<path d="M315.22 318.49L317.07 320.62L315.22 322.75L313.37 320.62Z" fill="#008000"/>
<path d="M324.21 315.90L326.06 318.03L324.21 320.16L322.36 318.03Z" fill="#008000"/>
<path d="M333.20 312.94L335.05 315.07L333.20 317.20L331.35 315.07Z" fill="#008000"/>
<path d="M342.19 310.35L344.04 312.48L342.19 314.61L340.34 312.48Z" fill="#008000"/>
<path d="M369.16 302.58L371.01 304.71L369.16 306.84L367.31 304.71Z" fill="#008000"/>
<path d="M396.12 298.88L397.98 301.01L396.12 303.14L394.27 301.01Z" fill="#008000"/>
<path d="M423.09 293.70L424.94 295.83L423.09 297.96L421.24 295.83Z" fill="#008000"/>
<path d="M450.06 285.93L451.91 288.06L450.06 290.19L448.21 288.06Z" fill="#008000"/>
<path d="M504.00 281.49L505.85 283.62L504.00 285.75L502.15 283.62Z" fill="#008000"/>
<polyline points="292.74,327.10 297.24,325.80 301.73,324.32 306.23,322.84 310.72,320.62 315.22,318.58 324.21,315.81 333.20,312.48 342.19,308.04 369.16,300.27 396.12,293.98 423.09,288.43 450.06,283.25 504.00,278.07" fill="none" stroke="#000080" stroke-width="0.9" stroke-linejoin="round"/>
<path d="M290.71 327.10L294.22 325.06L294.22 329.13Z" fill="#000080"/>
<path d="M295.20 325.80L298.72 323.76L298.72 327.84Z" fill="#000080"/>
<path d="M299.70 324.32L303.21 322.28L303.21 326.36Z" fill="#000080"/>
<path d="M304.19 322.84L307.71 320.80L307.71 324.88Z" fill="#000080"/>
<path d="M308.69 320.62L312.20 318.58L312.20 322.66Z" fill="#000080"/>
<path d="M313.18 318.58L316.70 316.55L316.70 320.62Z" fill="#000080"/>
<path d="M322.17 315.81L325.69 313.77L325.69 317.85Z" fill="#000080"/>
<path d="M331.16 312.48L334.68 310.44L334.68 314.52Z" fill="#000080"/>
<path d="M340.15 308.04L343.67 306.00L343.67 310.08Z" fill="#000080"/>
<path d="M367.12 300.27L370.64 298.23L370.64 302.31Z" fill="#000080"/>
<path d="M394.09 293.98L397.61 291.94L397.61 296.02Z" fill="#000080"/>
<path d="M421.06 288.43L424.57 286.39L424.57 290.47Z" fill="#000080"/>
<path d="M448.03 283.25L451.54 281.21L451.54 285.29Z" fill="#000080"/>
<path d="M501.96 278.07L505.48 276.03L505.48 280.11Z" fill="#000080"/>
<polyline points="292.74,322.47 297.24,321.55 301.73,320.25 306.23,318.77 310.72,314.33 315.22,313.59 324.21,310.26 333.20,306.56 342.19,302.49 369.16,294.35 396.12,285.84 423.09,280.29 450.06,273.63 504.00,268.45" fill="none" stroke="#8000FF" stroke-width="0.9" stroke-linejoin="round"/>
<path d="M294.78 322.47L291.26 320.44L291.26 324.51Z" fill="#8000FF"/>
<path d="M299.27 321.55L295.76 319.51L295.76 323.58Z" fill="#8000FF"/>
<path d="M303.77 320.25L300.25 318.21L300.25 322.29Z" fill="#8000FF"/>
<path d="M308.26 318.77L304.75 316.73L304.75 320.81Z" fill="#8000FF"/>
<path d="M312.76 314.33L309.24 312.29L309.24 316.37Z" fill="#8000FF"/>
<path d="M317.25 313.59L313.74 311.55L313.74 315.62Z" fill="#8000FF"/>
<path d="M326.24 310.26L322.73 308.22L322.73 312.30Z" fill="#8000FF"/>
<path d="M335.23 306.56L331.72 304.52L331.72 308.60Z" fill="#8000FF"/>
<path d="M344.22 302.49L340.71 300.45L340.71 304.53Z" fill="#8000FF"/>
<path d="M371.19 294.35L367.68 292.31L367.68 296.39Z" fill="#8000FF"/>
<path d="M398.16 285.84L394.64 283.80L394.64 287.88Z" fill="#8000FF"/>
<path d="M425.13 280.29L421.61 278.25L421.61 282.32Z" fill="#8000FF"/>
<path d="M452.10 273.63L448.58 271.59L448.58 275.67Z" fill="#8000FF"/>
<path d="M506.04 268.45L502.52 266.41L502.52 270.49Z" fill="#8000FF"/>
<polyline points="292.74,283.99 297.24,281.77 301.73,280.11 306.23,279.55 310.72,279.18 315.22,278.07 324.21,273.26 333.20,271.60 342.19,270.67 369.16,267.71 396.12,262.90 423.09,259.01 450.06,255.13 504.00,249.58" fill="none" stroke="#800080" stroke-width="0.9" stroke-linejoin="round"/>
<circle cx="292.74" cy="283.99" r="1.85" fill="#800080"/>
<circle cx="297.24" cy="281.77" r="1.85" fill="#800080"/>
<circle cx="301.73" cy="280.11" r="1.85" fill="#800080"/>
<circle cx="306.23" cy="279.55" r="1.85" fill="#800080"/>
<circle cx="310.72" cy="279.18" r="1.85" fill="#800080"/>
<circle cx="315.22" cy="278.07" r="1.85" fill="#800080"/>
<circle cx="324.21" cy="273.26" r="1.85" fill="#800080"/>
<circle cx="333.20" cy="271.60" r="1.85" fill="#800080"/>
<circle cx="342.19" cy="270.67" r="1.85" fill="#800080"/>
<circle cx="369.16" cy="267.71" r="1.85" fill="#800080"/>
<circle cx="396.12" cy="262.90" r="1.85" fill="#800080"/>
<circle cx="423.09" cy="259.01" r="1.85" fill="#800080"/>
<circle cx="450.06" cy="255.13" r="1.85" fill="#800080"/>
<circle cx="504.00" cy="249.58" r="1.85" fill="#800080"/>
<path d="M455.80 193.60H469.50" stroke="#000000" stroke-width="0.9"/>
<rect x="460.98" y="191.94" width="3.33" height="3.33" fill="#000000"/>
<text x="471.10" y="195.90" class="lg" textLength="32.03" lengthAdjust="spacingAndGlyphs">Sample 1 (9)</text>
<path d="M455.80 201.17H469.50" stroke="#FF0000" stroke-width="0.9"/>
<circle cx="462.65" cy="201.17" r="1.85" fill="#FF0000"/>
<text x="471.10" y="203.47" class="lg" textLength="32.03" lengthAdjust="spacingAndGlyphs">Sample 2 (9)</text>
<path d="M455.80 208.74H469.50" stroke="#0000FF" stroke-width="0.9"/>
<path d="M462.65 206.71L464.69 210.22L460.61 210.22Z" fill="#0000FF"/>
<text x="471.10" y="211.04" class="lg" textLength="34.90" lengthAdjust="spacingAndGlyphs">Sample 3 (11)</text>
<path d="M455.80 216.31H469.50" stroke="#FF00FF" stroke-width="0.9"/>
<path d="M462.65 218.34L464.69 214.83L460.61 214.83Z" fill="#FF00FF"/>
<text x="471.10" y="218.61" class="lg" textLength="35.13" lengthAdjust="spacingAndGlyphs">Sample 4 (13)</text>
<path d="M455.80 223.88H469.50" stroke="#008000" stroke-width="0.9"/>
<path d="M462.65 221.75L464.50 223.88L462.65 226.01L460.80 223.88Z" fill="#008000"/>
<text x="471.10" y="226.18" class="lg" textLength="35.13" lengthAdjust="spacingAndGlyphs">Sample 5 (13)</text>
<path d="M455.80 231.45H469.50" stroke="#000080" stroke-width="0.9"/>
<path d="M460.61 231.45L464.13 229.41L464.13 233.48Z" fill="#000080"/>
<text x="471.10" y="233.75" class="lg" textLength="35.13" lengthAdjust="spacingAndGlyphs">Sample 6 (13)</text>
<path d="M455.80 239.02H469.50" stroke="#8000FF" stroke-width="0.9"/>
<path d="M464.69 239.02L461.17 236.98L461.17 241.05Z" fill="#8000FF"/>
<text x="471.10" y="241.32" class="lg" textLength="35.13" lengthAdjust="spacingAndGlyphs">Sample 7 (16)</text>
<path d="M455.80 246.59H469.50" stroke="#800080" stroke-width="0.9"/>
<circle cx="462.65" cy="246.59" r="1.85" fill="#800080"/>
<text x="471.10" y="248.89" class="lg" textLength="32.03" lengthAdjust="spacingAndGlyphs">Sample 8 (3)</text>
<path d="M287.00 376.25V520.75H501.75" stroke="#555" stroke-width="1" fill="none"/>
<text x="283.40" y="523.15" text-anchor="end" class="tk" textLength="3.75" lengthAdjust="spacingAndGlyphs">0</text>
<text x="283.40" y="505.15" text-anchor="end" class="tk" textLength="3.75" lengthAdjust="spacingAndGlyphs">5</text>
<text x="283.40" y="487.15" text-anchor="end" class="tk" textLength="7.50" lengthAdjust="spacingAndGlyphs">10</text>
<text x="283.40" y="469.15" text-anchor="end" class="tk" textLength="7.50" lengthAdjust="spacingAndGlyphs">15</text>
<text x="283.40" y="451.15" text-anchor="end" class="tk" textLength="7.50" lengthAdjust="spacingAndGlyphs">20</text>
<text x="283.40" y="433.15" text-anchor="end" class="tk" textLength="7.50" lengthAdjust="spacingAndGlyphs">25</text>
<text x="283.40" y="415.15" text-anchor="end" class="tk" textLength="7.50" lengthAdjust="spacingAndGlyphs">30</text>
<text x="283.40" y="397.15" text-anchor="end" class="tk" textLength="7.50" lengthAdjust="spacingAndGlyphs">35</text>
<text x="283.40" y="379.15" text-anchor="end" class="tk" textLength="7.50" lengthAdjust="spacingAndGlyphs">40</text>
<text x="287.00" y="530.75" text-anchor="middle" class="tk" textLength="3.75" lengthAdjust="spacingAndGlyphs">0</text>
<text x="313.78" y="530.75" text-anchor="middle" class="tk" textLength="7.50" lengthAdjust="spacingAndGlyphs">30</text>
<text x="340.56" y="530.75" text-anchor="middle" class="tk" textLength="7.50" lengthAdjust="spacingAndGlyphs">60</text>
<text x="367.34" y="530.75" text-anchor="middle" class="tk" textLength="7.50" lengthAdjust="spacingAndGlyphs">90</text>
<text x="394.12" y="530.75" text-anchor="middle" class="tk" textLength="11.25" lengthAdjust="spacingAndGlyphs">120</text>
<text x="420.91" y="530.75" text-anchor="middle" class="tk" textLength="11.25" lengthAdjust="spacingAndGlyphs">150</text>
<text x="447.69" y="530.75" text-anchor="middle" class="tk" textLength="11.25" lengthAdjust="spacingAndGlyphs">180</text>
<text x="474.47" y="530.75" text-anchor="middle" class="tk" textLength="11.25" lengthAdjust="spacingAndGlyphs">210</text>
<text x="501.25" y="530.75" text-anchor="middle" class="tk" textLength="11.25" lengthAdjust="spacingAndGlyphs">240</text>
<path d="M284.40 520.75H287.00 M284.40 502.75H287.00 M284.40 484.75H287.00 M284.40 466.75H287.00 M284.40 448.75H287.00 M284.40 430.75H287.00 M284.40 412.75H287.00 M284.40 394.75H287.00 M284.40 376.75H287.00 M287.00 520.75V523.35 M313.78 520.75V523.35 M340.56 520.75V523.35 M367.34 520.75V523.35 M394.12 520.75V523.35 M420.91 520.75V523.35 M447.69 520.75V523.35 M474.47 520.75V523.35 M501.25 520.75V523.35" stroke="#555" stroke-width="1.0" fill="none"/>
<text x="394.52" y="543.75" text-anchor="middle" class="xl" textLength="69.2" lengthAdjust="spacingAndGlyphs">Digestion time (min)</text>
<text transform="translate(260.60,457.90) rotate(-90)" x="0" y="0" text-anchor="middle" class="yl" textLength="80.5" lengthAdjust="spacingAndGlyphs">Reducing sugar content</text>
<text transform="translate(270.10,457.90) rotate(-90)" x="0" y="0" text-anchor="middle" class="yl" textLength="79.1" lengthAdjust="spacingAndGlyphs">(mmol/g carbohydrate)</text>
<text x="262.80" y="380.80" class="lt">F</text>
<polyline points="287.00,513.91 291.46,513.58 295.93,513.27 300.39,512.96 304.85,512.67 309.32,512.38 313.78,512.11 322.71,511.61 331.64,511.14 340.56,510.67 349.49,510.19 358.42,509.71 367.34,509.23 394.12,507.79 420.91,506.98 447.69,506.35 501.25,505.27" fill="none" stroke="#000000" stroke-width="0.9" stroke-linejoin="round"/>
<rect x="285.11" y="512.02" width="3.78" height="3.78" fill="#000000"/>
<rect x="289.57" y="511.69" width="3.78" height="3.78" fill="#000000"/>
<rect x="294.04" y="511.38" width="3.78" height="3.78" fill="#000000"/>
<rect x="298.50" y="511.07" width="3.78" height="3.78" fill="#000000"/>
<rect x="302.96" y="510.78" width="3.78" height="3.78" fill="#000000"/>
<rect x="307.43" y="510.49" width="3.78" height="3.78" fill="#000000"/>
<rect x="311.89" y="510.22" width="3.78" height="3.78" fill="#000000"/>
<rect x="320.82" y="509.72" width="3.78" height="3.78" fill="#000000"/>
<rect x="329.75" y="509.25" width="3.78" height="3.78" fill="#000000"/>
<rect x="338.67" y="508.78" width="3.78" height="3.78" fill="#000000"/>
<rect x="347.60" y="508.30" width="3.78" height="3.78" fill="#000000"/>
<rect x="356.53" y="507.82" width="3.78" height="3.78" fill="#000000"/>
<rect x="365.45" y="507.34" width="3.78" height="3.78" fill="#000000"/>
<rect x="392.24" y="505.90" width="3.78" height="3.78" fill="#000000"/>
<rect x="419.02" y="505.09" width="3.78" height="3.78" fill="#000000"/>
<rect x="445.80" y="504.46" width="3.78" height="3.78" fill="#000000"/>
<rect x="499.36" y="503.38" width="3.78" height="3.78" fill="#000000"/>
<polyline points="287.00,514.63 291.46,514.02 295.93,513.44 300.39,512.91 304.85,512.45 309.32,512.06 313.78,511.75 322.71,511.33 331.64,511.02 340.56,510.67 349.49,510.24 358.42,509.77 367.34,509.23 394.12,507.07 420.91,506.35 447.69,507.07 501.25,505.63" fill="none" stroke="#FF0000" stroke-width="0.9" stroke-linejoin="round"/>
<circle cx="287.00" cy="514.63" r="2.10" fill="#FF0000"/>
<circle cx="291.46" cy="514.02" r="2.10" fill="#FF0000"/>
<circle cx="295.93" cy="513.44" r="2.10" fill="#FF0000"/>
<circle cx="300.39" cy="512.91" r="2.10" fill="#FF0000"/>
<circle cx="304.85" cy="512.45" r="2.10" fill="#FF0000"/>
<circle cx="309.32" cy="512.06" r="2.10" fill="#FF0000"/>
<circle cx="313.78" cy="511.75" r="2.10" fill="#FF0000"/>
<circle cx="322.71" cy="511.33" r="2.10" fill="#FF0000"/>
<circle cx="331.64" cy="511.02" r="2.10" fill="#FF0000"/>
<circle cx="340.56" cy="510.67" r="2.10" fill="#FF0000"/>
<circle cx="349.49" cy="510.24" r="2.10" fill="#FF0000"/>
<circle cx="358.42" cy="509.77" r="2.10" fill="#FF0000"/>
<circle cx="367.34" cy="509.23" r="2.10" fill="#FF0000"/>
<circle cx="394.12" cy="507.07" r="2.10" fill="#FF0000"/>
<circle cx="420.91" cy="506.35" r="2.10" fill="#FF0000"/>
<circle cx="447.69" cy="507.07" r="2.10" fill="#FF0000"/>
<circle cx="501.25" cy="505.63" r="2.10" fill="#FF0000"/>
<polyline points="287.00,512.83 291.46,512.44 295.93,512.07 300.39,511.70 304.85,511.35 309.32,511.00 313.78,510.67 322.71,510.03 331.64,509.43 340.56,508.87 349.49,508.37 358.42,507.90 367.34,507.43 394.12,505.99 420.91,504.97 447.69,504.19 501.25,503.11" fill="none" stroke="#0000FF" stroke-width="0.9" stroke-linejoin="round"/>
<path d="M287.00 510.52L289.31 514.51L284.69 514.51Z" fill="#0000FF"/>
<path d="M291.46 510.13L293.77 514.12L289.15 514.12Z" fill="#0000FF"/>
<path d="M295.93 509.76L298.24 513.75L293.62 513.75Z" fill="#0000FF"/>
<path d="M300.39 509.39L302.70 513.38L298.08 513.38Z" fill="#0000FF"/>
<path d="M304.85 509.04L307.16 513.03L302.54 513.03Z" fill="#0000FF"/>
<path d="M309.32 508.69L311.63 512.68L307.01 512.68Z" fill="#0000FF"/>
<path d="M313.78 508.36L316.09 512.35L311.47 512.35Z" fill="#0000FF"/>
<path d="M322.71 507.72L325.02 511.71L320.40 511.71Z" fill="#0000FF"/>
<path d="M331.64 507.12L333.95 511.11L329.33 511.11Z" fill="#0000FF"/>
<path d="M340.56 506.56L342.87 510.55L338.25 510.55Z" fill="#0000FF"/>
<path d="M349.49 506.06L351.80 510.05L347.18 510.05Z" fill="#0000FF"/>
<path d="M358.42 505.59L360.73 509.58L356.11 509.58Z" fill="#0000FF"/>
<path d="M367.34 505.12L369.65 509.11L365.03 509.11Z" fill="#0000FF"/>
<path d="M394.12 503.68L396.44 507.67L391.81 507.67Z" fill="#0000FF"/>
<path d="M420.91 502.66L423.22 506.65L418.60 506.65Z" fill="#0000FF"/>
<path d="M447.69 501.88L450.00 505.87L445.38 505.87Z" fill="#0000FF"/>
<path d="M501.25 500.80L503.56 504.79L498.94 504.79Z" fill="#0000FF"/>
<polyline points="287.00,515.71 291.46,515.07 295.93,514.45 300.39,513.88 304.85,513.36 309.32,512.89 313.78,512.47 322.71,511.78 331.64,511.20 340.56,510.67 349.49,510.17 358.42,509.70 367.34,509.23 394.12,507.79 420.91,506.77 447.69,505.99 501.25,504.91" fill="none" stroke="#FF00FF" stroke-width="0.9" stroke-linejoin="round"/>
<path d="M287.00 518.02L289.31 514.03L284.69 514.03Z" fill="#FF00FF"/>
<path d="M291.46 517.38L293.77 513.39L289.15 513.39Z" fill="#FF00FF"/>
<path d="M295.93 516.76L298.24 512.77L293.62 512.77Z" fill="#FF00FF"/>
<path d="M300.39 516.19L302.70 512.20L298.08 512.20Z" fill="#FF00FF"/>
<path d="M304.85 515.67L307.16 511.68L302.54 511.68Z" fill="#FF00FF"/>
<path d="M309.32 515.20L311.63 511.21L307.01 511.21Z" fill="#FF00FF"/>
<path d="M313.78 514.78L316.09 510.79L311.47 510.79Z" fill="#FF00FF"/>
<path d="M322.71 514.09L325.02 510.10L320.40 510.10Z" fill="#FF00FF"/>
<path d="M331.64 513.51L333.95 509.52L329.33 509.52Z" fill="#FF00FF"/>
<path d="M340.56 512.98L342.87 508.99L338.25 508.99Z" fill="#FF00FF"/>
<path d="M349.49 512.48L351.80 508.49L347.18 508.49Z" fill="#FF00FF"/>
<path d="M358.42 512.01L360.73 508.02L356.11 508.02Z" fill="#FF00FF"/>
<path d="M367.34 511.54L369.65 507.55L365.03 507.55Z" fill="#FF00FF"/>
<path d="M394.12 510.10L396.44 506.11L391.81 506.11Z" fill="#FF00FF"/>
<path d="M420.91 509.08L423.22 505.09L418.60 505.09Z" fill="#FF00FF"/>
<path d="M447.69 508.30L450.00 504.31L445.38 504.31Z" fill="#FF00FF"/>
<path d="M501.25 507.22L503.56 503.23L498.94 503.23Z" fill="#FF00FF"/>
<polyline points="287.00,511.75 291.46,511.34 295.93,510.94 300.39,510.57 304.85,510.22 309.32,509.89 313.78,509.59 322.71,509.08 331.64,508.63 340.56,508.15 349.49,507.56 358.42,506.94 367.34,506.35 394.12,504.91 420.91,503.89 447.69,503.11 501.25,502.03" fill="none" stroke="#008000" stroke-width="0.9" stroke-linejoin="round"/>
<path d="M287.00 509.33L289.10 511.75L287.00 514.16L284.90 511.75Z" fill="#008000"/>
<path d="M291.46 508.92L293.56 511.34L291.46 513.75L289.36 511.34Z" fill="#008000"/>
<path d="M295.93 508.53L298.03 510.94L295.93 513.36L293.83 510.94Z" fill="#008000"/>
<path d="M300.39 508.16L302.49 510.57L300.39 512.99L298.29 510.57Z" fill="#008000"/>
<path d="M304.85 507.80L306.95 510.22L304.85 512.63L302.75 510.22Z" fill="#008000"/>
<path d="M309.32 507.48L311.42 509.89L309.32 512.31L307.22 509.89Z" fill="#008000"/>
<path d="M313.78 507.17L315.88 509.59L313.78 512.00L311.68 509.59Z" fill="#008000"/>
<path d="M322.71 506.66L324.81 509.08L322.71 511.49L320.61 509.08Z" fill="#008000"/>
<path d="M331.64 506.22L333.74 508.63L331.64 511.05L329.54 508.63Z" fill="#008000"/>
<path d="M340.56 505.73L342.66 508.15L340.56 510.56L338.46 508.15Z" fill="#008000"/>
<path d="M349.49 505.15L351.59 507.56L349.49 509.98L347.39 507.56Z" fill="#008000"/>
<path d="M358.42 504.52L360.52 506.94L358.42 509.35L356.32 506.94Z" fill="#008000"/>
<path d="M367.34 503.94L369.44 506.35L367.34 508.77L365.24 506.35Z" fill="#008000"/>
<path d="M394.12 502.50L396.23 504.91L394.12 507.33L392.02 504.91Z" fill="#008000"/>
<path d="M420.91 501.48L423.01 503.89L420.91 506.31L418.81 503.89Z" fill="#008000"/>
<path d="M447.69 500.69L449.79 503.11L447.69 505.53L445.59 503.11Z" fill="#008000"/>
<path d="M501.25 499.61L503.35 502.03L501.25 504.44L499.15 502.03Z" fill="#008000"/>
<polyline points="287.00,513.55 291.46,513.14 295.93,512.74 300.39,512.37 304.85,512.02 309.32,511.69 313.78,511.39 322.71,510.85 331.64,510.38 340.56,509.95 349.49,509.57 358.42,509.22 367.34,508.87 394.12,507.79 420.91,506.73 447.69,505.63 501.25,503.11" fill="none" stroke="#000080" stroke-width="0.9" stroke-linejoin="round"/>
<path d="M284.69 513.55L288.68 511.24L288.68 515.86Z" fill="#000080"/>
<path d="M289.15 513.14L293.14 510.83L293.14 515.45Z" fill="#000080"/>
<path d="M293.62 512.74L297.61 510.43L297.61 515.05Z" fill="#000080"/>
<path d="M298.08 512.37L302.07 510.06L302.07 514.68Z" fill="#000080"/>
<path d="M302.54 512.02L306.53 509.71L306.53 514.33Z" fill="#000080"/>
<path d="M307.01 511.69L311.00 509.38L311.00 514.00Z" fill="#000080"/>
<path d="M311.47 511.39L315.46 509.08L315.46 513.70Z" fill="#000080"/>
<path d="M320.40 510.85L324.39 508.54L324.39 513.16Z" fill="#000080"/>
<path d="M329.33 510.38L333.32 508.07L333.32 512.69Z" fill="#000080"/>
<path d="M338.25 509.95L342.24 507.64L342.24 512.26Z" fill="#000080"/>
<path d="M347.18 509.57L351.17 507.26L351.17 511.88Z" fill="#000080"/>
<path d="M356.11 509.22L360.10 506.91L360.10 511.53Z" fill="#000080"/>
<path d="M365.03 508.87L369.02 506.56L369.02 511.18Z" fill="#000080"/>
<path d="M391.81 507.79L395.81 505.48L395.81 510.10Z" fill="#000080"/>
<path d="M418.60 506.73L422.59 504.42L422.59 509.04Z" fill="#000080"/>
<path d="M445.38 505.63L449.37 503.32L449.37 507.94Z" fill="#000080"/>
<path d="M498.94 503.11L502.93 500.80L502.93 505.42Z" fill="#000080"/>
<polyline points="287.00,509.23 291.46,508.88 295.93,508.54 300.39,508.23 304.85,507.94 309.32,507.67 313.78,507.43 322.71,507.04 331.64,506.71 340.56,506.35 349.49,505.91 358.42,505.43 367.34,504.91 394.12,503.11 420.91,502.16 447.69,501.31 501.25,498.79" fill="none" stroke="#8000FF" stroke-width="0.9" stroke-linejoin="round"/>
<path d="M289.31 509.23L285.32 506.92L285.32 511.54Z" fill="#8000FF"/>
<path d="M293.77 508.88L289.78 506.57L289.78 511.19Z" fill="#8000FF"/>
<path d="M298.24 508.54L294.25 506.23L294.25 510.85Z" fill="#8000FF"/>
<path d="M302.70 508.23L298.71 505.92L298.71 510.54Z" fill="#8000FF"/>
<path d="M307.16 507.94L303.17 505.63L303.17 510.25Z" fill="#8000FF"/>
<path d="M311.63 507.67L307.64 505.36L307.64 509.98Z" fill="#8000FF"/>
<path d="M316.09 507.43L312.10 505.12L312.10 509.74Z" fill="#8000FF"/>
<path d="M325.02 507.04L321.03 504.73L321.03 509.35Z" fill="#8000FF"/>
<path d="M333.95 506.71L329.96 504.40L329.96 509.02Z" fill="#8000FF"/>
<path d="M342.87 506.35L338.88 504.04L338.88 508.66Z" fill="#8000FF"/>
<path d="M351.80 505.91L347.81 503.60L347.81 508.22Z" fill="#8000FF"/>
<path d="M360.73 505.43L356.74 503.12L356.74 507.74Z" fill="#8000FF"/>
<path d="M369.65 504.91L365.66 502.60L365.66 507.22Z" fill="#8000FF"/>
<path d="M396.44 503.11L392.44 500.80L392.44 505.42Z" fill="#8000FF"/>
<path d="M423.22 502.16L419.23 499.85L419.23 504.47Z" fill="#8000FF"/>
<path d="M450.00 501.31L446.01 499.00L446.01 503.62Z" fill="#8000FF"/>
<path d="M503.56 498.79L499.57 496.48L499.57 501.10Z" fill="#8000FF"/>
<polyline points="287.00,478.63 291.46,473.59 295.93,472.87 300.39,472.87 304.85,474.31 309.32,471.79 313.78,472.87 322.71,471.79 331.64,471.25 340.56,470.71 349.49,471.25 358.42,471.79 367.34,469.99 394.12,466.75 420.91,466.75 447.69,466.39 501.25,464.59" fill="none" stroke="#800080" stroke-width="0.9" stroke-linejoin="round"/>
<circle cx="287.00" cy="478.63" r="2.10" fill="#800080"/>
<circle cx="291.46" cy="473.59" r="2.10" fill="#800080"/>
<circle cx="295.93" cy="472.87" r="2.10" fill="#800080"/>
<circle cx="300.39" cy="472.87" r="2.10" fill="#800080"/>
<circle cx="304.85" cy="474.31" r="2.10" fill="#800080"/>
<circle cx="309.32" cy="471.79" r="2.10" fill="#800080"/>
<circle cx="313.78" cy="472.87" r="2.10" fill="#800080"/>
<circle cx="322.71" cy="471.79" r="2.10" fill="#800080"/>
<circle cx="331.64" cy="471.25" r="2.10" fill="#800080"/>
<circle cx="340.56" cy="470.71" r="2.10" fill="#800080"/>
<circle cx="349.49" cy="471.25" r="2.10" fill="#800080"/>
<circle cx="358.42" cy="471.79" r="2.10" fill="#800080"/>
<circle cx="367.34" cy="469.99" r="2.10" fill="#800080"/>
<circle cx="394.12" cy="466.75" r="2.10" fill="#800080"/>
<circle cx="420.91" cy="466.75" r="2.10" fill="#800080"/>
<circle cx="447.69" cy="466.39" r="2.10" fill="#800080"/>
<circle cx="501.25" cy="464.59" r="2.10" fill="#800080"/>
<path d="M450.10 380.50H463.75" stroke="#000000" stroke-width="0.9"/>
<rect x="455.26" y="378.83" width="3.33" height="3.33" fill="#000000"/>
<text x="465.35" y="382.80" class="lg" textLength="32.03" lengthAdjust="spacingAndGlyphs">Sample 1 (9)</text>
<path d="M450.10 387.90H463.75" stroke="#FF0000" stroke-width="0.9"/>
<circle cx="456.93" cy="387.90" r="1.85" fill="#FF0000"/>
<text x="465.35" y="390.20" class="lg" textLength="32.03" lengthAdjust="spacingAndGlyphs">Sample 2 (9)</text>
<path d="M450.10 395.30H463.75" stroke="#0000FF" stroke-width="0.9"/>
<path d="M456.93 393.26L458.96 396.78L454.89 396.78Z" fill="#0000FF"/>
<text x="465.35" y="397.60" class="lg" textLength="34.90" lengthAdjust="spacingAndGlyphs">Sample 3 (11)</text>
<path d="M450.10 402.70H463.75" stroke="#FF00FF" stroke-width="0.9"/>
<path d="M456.93 404.74L458.96 401.22L454.89 401.22Z" fill="#FF00FF"/>
<text x="465.35" y="405.00" class="lg" textLength="35.13" lengthAdjust="spacingAndGlyphs">Sample 4 (13)</text>
<path d="M450.10 410.10H463.75" stroke="#008000" stroke-width="0.9"/>
<path d="M456.93 407.97L458.78 410.10L456.93 412.23L455.07 410.10Z" fill="#008000"/>
<text x="465.35" y="412.40" class="lg" textLength="35.13" lengthAdjust="spacingAndGlyphs">Sample 5 (13)</text>
<path d="M450.10 417.50H463.75" stroke="#000080" stroke-width="0.9"/>
<path d="M454.89 417.50L458.41 415.46L458.41 419.54Z" fill="#000080"/>
<text x="465.35" y="419.80" class="lg" textLength="35.13" lengthAdjust="spacingAndGlyphs">Sample 6 (13)</text>
<path d="M450.10 424.90H463.75" stroke="#8000FF" stroke-width="0.9"/>
<path d="M458.96 424.90L455.44 422.86L455.44 426.94Z" fill="#8000FF"/>
<text x="465.35" y="427.20" class="lg" textLength="35.13" lengthAdjust="spacingAndGlyphs">Sample 7 (16)</text>
<path d="M450.10 432.30H463.75" stroke="#800080" stroke-width="0.9"/>
<circle cx="456.93" cy="432.30" r="1.85" fill="#800080"/>
<text x="465.35" y="434.60" class="lg" textLength="32.03" lengthAdjust="spacingAndGlyphs">Sample 8 (3)</text>
</svg>
</body></html>
